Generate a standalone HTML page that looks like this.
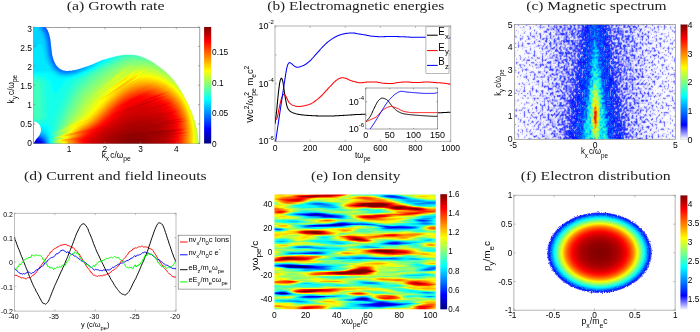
<!DOCTYPE html><html><head><meta charset="utf-8"><title>Figure</title>
<style>html,body{margin:0;padding:0;background:#fff}svg{display:block}text{white-space:pre}</style></head><body>
<svg width="700" height="332" viewBox="0 0 700 332">
<rect width="700" height="332" fill="#fff"/>
<defs>
<filter id="jet" color-interpolation-filters="sRGB" x="0" y="0" width="1" height="1"><feComponentTransfer><feFuncR type="table" tableValues="0 0 0 0 0.5 1 1 1 0.5"/><feFuncG type="table" tableValues="0 0 0.5 1 1 1 0.5 0 0"/><feFuncB type="table" tableValues="0.5 1 1 1 0.5 0 0 0 0"/></feComponentTransfer></filter>
<linearGradient id="cbjet" x1="0" y1="1" x2="0" y2="0">
<stop offset="0.0000" stop-color="#000080"/>
<stop offset="0.0625" stop-color="#0000bf"/>
<stop offset="0.1250" stop-color="#0000ff"/>
<stop offset="0.1875" stop-color="#0040ff"/>
<stop offset="0.2500" stop-color="#0080ff"/>
<stop offset="0.3125" stop-color="#00bfff"/>
<stop offset="0.3750" stop-color="#00ffff"/>
<stop offset="0.4375" stop-color="#40ffbf"/>
<stop offset="0.5000" stop-color="#80ff80"/>
<stop offset="0.5625" stop-color="#bfff40"/>
<stop offset="0.6250" stop-color="#ffff00"/>
<stop offset="0.6875" stop-color="#ffbf00"/>
<stop offset="0.7500" stop-color="#ff8000"/>
<stop offset="0.8125" stop-color="#ff4000"/>
<stop offset="0.8750" stop-color="#ff0000"/>
<stop offset="0.9375" stop-color="#bf0000"/>
<stop offset="1.0000" stop-color="#800000"/>
</linearGradient>
<linearGradient id="cbwjet" x1="0" y1="1" x2="0" y2="0">
<stop offset="0.0000" stop-color="#ffffff"/>
<stop offset="0.0625" stop-color="#7f7fff"/>
<stop offset="0.1250" stop-color="#0000ff"/>
<stop offset="0.1875" stop-color="#0040ff"/>
<stop offset="0.2500" stop-color="#0080ff"/>
<stop offset="0.3125" stop-color="#00bfff"/>
<stop offset="0.3750" stop-color="#00ffff"/>
<stop offset="0.4375" stop-color="#40ffbf"/>
<stop offset="0.5000" stop-color="#80ff80"/>
<stop offset="0.5625" stop-color="#bfff40"/>
<stop offset="0.6250" stop-color="#ffff00"/>
<stop offset="0.6875" stop-color="#ffbf00"/>
<stop offset="0.7500" stop-color="#ff8000"/>
<stop offset="0.8125" stop-color="#ff4000"/>
<stop offset="0.8750" stop-color="#ff0000"/>
<stop offset="0.9375" stop-color="#bf0000"/>
<stop offset="1.0000" stop-color="#800000"/>
</linearGradient>
</defs>
<text x="66.70" y="10.20" font-size="13.40" font-family='"Liberation Serif", serif' fill="#222" textLength="97.90" lengthAdjust="spacingAndGlyphs">(a) Growth rate</text>
<text x="267.30" y="10.00" font-size="13.40" font-family='"Liberation Serif", serif' fill="#222" textLength="176.90" lengthAdjust="spacingAndGlyphs">(b) Electromagnetic energies</text>
<text x="526.30" y="10.00" font-size="13.40" font-family='"Liberation Serif", serif' fill="#222" textLength="140.30" lengthAdjust="spacingAndGlyphs">(c) Magnetic spectrum</text>
<text x="24.00" y="180.20" font-size="13.40" font-family='"Liberation Serif", serif' fill="#222" textLength="182.70" lengthAdjust="spacingAndGlyphs">(d) Current and field lineouts</text>
<text x="311.10" y="180.00" font-size="13.40" font-family='"Liberation Serif", serif' fill="#222" textLength="89.20" lengthAdjust="spacingAndGlyphs">(e) Ion density</text>
<text x="520.80" y="179.80" font-size="13.40" font-family='"Liberation Serif", serif' fill="#222" textLength="149.90" lengthAdjust="spacingAndGlyphs">(f) Electron distribution</text>
<defs><clipPath id="clipA"><path d="M33.5 143.5 L198.90 143.50C198.53 140.97 197.82 133.33 196.70 128.30C195.58 123.27 193.98 118.07 192.20 113.30C190.42 108.53 188.53 104.48 186.00 99.70C183.47 94.92 180.00 88.88 177.00 84.60C174.00 80.32 171.00 77.00 168.00 74.00C165.00 71.00 162.00 68.85 159.00 66.60C156.00 64.35 152.83 62.10 150.00 60.50C147.17 58.90 144.65 57.90 142.00 57.00C139.35 56.10 137.30 55.42 134.10 55.10C130.90 54.78 126.58 54.72 122.80 55.10C119.02 55.48 114.83 56.57 111.40 57.40C107.97 58.23 105.23 58.98 102.20 60.10C99.17 61.22 96.20 62.90 93.20 64.10C90.20 65.30 87.22 66.32 84.20 67.30C81.18 68.28 78.12 69.40 75.10 70.00C72.08 70.60 68.65 71.10 66.10 70.90C63.55 70.70 61.60 70.00 59.80 68.80C58.00 67.60 56.50 65.75 55.30 63.70C54.10 61.65 53.27 59.20 52.60 56.50C51.93 53.80 51.70 50.52 51.30 47.50C50.90 44.48 50.73 41.12 50.20 38.40C49.67 35.68 48.90 33.10 48.10 31.20C47.30 29.30 45.85 27.70 45.40 27.00L33.5 27 L33.5 121.5 C38 121.5 41 125.5 41 130 C41 134 38.5 137 36.3 139 C35 141 34 142.5 33.5 143.5Z"/></clipPath>
<filter id="blA" x="-0.1" y="-0.1" width="1.2" height="1.2"><feGaussianBlur stdDeviation="1.2"/></filter><filter id="blR" x="-0.1" y="-0.1" width="1.2" height="1.2"><feGaussianBlur stdDeviation="0.45"/></filter></defs>
<rect x="33.50" y="27.40" width="166.30" height="116.10" fill="none" stroke="#777" stroke-width="0.70"/>
<g filter="url(#jet)" clip-path="url(#clipA)">
<g filter="url(#blA)">
<rect x="20" y="14" width="196" height="144" fill="#050505"/>
<path d="M24 18l187 0l0 135l-187 0z" fill="#0d0d0d"/>
<path d="M24 18l187 0l0 135l-187 0zM34 144l-.9 1l.9 1l1 0l.9-1l-.9-1z" fill="#121212"/>
<path d="M24 18l187 0l0 135l-187 0zM33 141.9l-1 .3l-1 .7l-.8 1.1l-.2 1l.2 1l.7 1l1.6 1l1.5 .2l2.3-.2l1.6-1l.7-1l.2-1l-.2-1l-.7-1l-.9-.7l-1-.4l-2-.1z" fill="#181818"/>
<path d="M24 18l187 0l0 135l-187 0zM32 140.9l-2 1.1l-.9 1l-.5 1l-.1 1l.1 1l.5 1l.9 1l2 1.1l1 .3l2 .1l2-.4l2-1.2l1-1.4l.4-1.5l-.4-1.5l-1-1.4l-1-.7l-2-.8l-2-.1z" fill="#1d1d1d"/>
<path d="M24 18l187 0l0 135l-187 0zM32 139.8l-2.5 1.2l-1.1 1l-.7 1l-.4 1l-.1 1l.1 1l.4 1l.7 1l1.1 1l1.5 .8l1 .4l2 .3l3-.4l2-.9l1-.8l1.1-1.4l.4-2l-.5-2l-.6-1l-1.4-1.2l-2-.9l-2-.4z" fill="#232323"/>
<path d="M24 18l187 0l0 135l-187 0zM32 138.8l-2 .7l-1 .6l-1.2 .9l-.9 1l-.5 1l-.3 1l0 2l.8 2l.9 1l1.3 1l1.9 .9l2 .4l2 .1l2-.3l2-.7l1-.6l.9-.8l.8-1l.8-2l0-2l-.8-2l-1.7-1.7l-2-1.1l-3-.6z" fill="#282828"/>
<path d="M24 18l187 0l0 135l-187 0zM32 137.9l-1 .2l-2.2 .9l-1.5 1l-1.3 1.3l-.9 1.7l-.4 2l.3 1.8l.6 1.2l.6 1l1.1 1l1.7 1.1l2.4 .9l2.6 .3l2-.1l2-.4l2-.8l1.4-1l.9-1l1.1-2l.2-1l-0-2l-.7-2l-1.6-2l-1.4-1l-1.9-.8l-3-.5z" fill="#2e2e2e"/>
<path d="M24 18l187 0l0 135l-174.8 0l2.8-.7l2-1l1.6-1.3l1.4-2l.6-2l0-1l-.3-2l-.9-2l-1.4-1.5l-2-1.4l-2-.7l-3-.5l-3 .2l-3 .9l-2 1.1l-1.9 1.9l-1.1 2.1zM24 147l0-.1l1.1 2.1l2.1 2l2.8 1.4l2.5 .6l-8.5 0z" fill="#333333"/>
<path d="M24 18l187 0l0 135l-171.8 0l2.1-1l1.7-1.3l1.4-1.7l.8-2l.2-1l-.1-2l-.5-2l-1.2-2l-1.6-1.5l-2-1.2l-3-.9l-2-.2l-3 .1l-2.6 .7l-2.1 1l-1.5 1l-1.8 2zM45 19.6l-.3 .4l-.1 4l.1 2l.3 2l2.6 3l.4 1.2l.6-.2l-.5-2l-1.6-2l-.4-1l-.4-2l.4-5l-.1-.2zM49 32.5l-.2 .5l.2 1.3l.1-.3zM24 149l2 2.1l1.3 .9l2.1 1l-5.4 0z" fill="#393939"/>
<path d="M24 18l20.9 0l-.9 .5l-.4 .5l-.3 1l-.1 6l.4 2l.4 1l2.3 3l1.4 4l.8 3l2.3 15l1.2 4.6l2 4.5l2 2.8l1 1l.4-.9l-.7-1l-1.4-3l-.8-2l-.9-4l-.9-9l-.6-8l-1-5l-1.4-4l-.5-1l-1.6-2l-.4-2l.3-5l-.3-1l-1.2-1l165 0l0 135l-170 0l2-1.3l1.6-1.7l1.1-2l.4-2l-.2-3l-.8-2l-1.1-1.6l-1.4-1.4l-1.6-1l-3-1.1l-2-.3l-3-.1l-2.8 .5l-2.2 .8l-2.2 1.2l-1.8 1.6zM58 66.8l-.7 .2l.7 .3zM24 151l0-.6l1.8 1.6l1.7 1l-3.5 0z" fill="#3e3e3e"/>
<path d="M24 18l19.2 0l-.6 1l-.2 1l-.2 4l.2 3l.6 2.1l2.2 2.9l.5 1l1.5 5l.8 4l1.8 13l1.1 4l1.1 2.9l1 2.1l2 2.9l1 1.2l2 1.7l2 1.2l2 .8l2 .4l2 .1l3.4-.3l3.9-1l.7-.5l1.4-.5l-.4-.4l-9-.3l-3-.8l-2-1.1l-1-.9l-1.4-1.5l-1.3-2l-1.7-4l-1-4l-1.4-15l-.9-5l-1.5-5l-.5-1l-1.5-2l-.5-1l.1-6l-.2-1l-.6-1l163.4-0l-0 135l-168.5 0l1.5-1.2l1.5-1.8l1-2l.3-2l-.2-3l-.7-2l-1.2-2l-1.7-1.6l-1-.7l-3-1.3l-3-.6l-3-.1l-4 .8l-2 .8l-2 1.2l-1 .9zM24 152l0-.3l1.8 1.3l-1.8 0z" fill="#444444"/>
<path d="M24 18l18 0l-.4 1l-.3 4l-0 3l.3 2l.9 2l2.2 3l1.4 4l.9 4.5l1.9 13.5l.7 3l1.4 4l1 2.1l1.9 2.9l1.7 2l1.4 1.2l2 1.4l2 .9l2 .5l3 .3l4-.3l4.4-1l2.6-.9l3.2-2.1l0-1l-2.2-.3l-3 .1l-6 .5l-2-0l-2-.3l-2-.6l-2-1.2l-1.2-1.2l-1.4-2l-1.5-3l-1.4-5l-1.5-15l-1-6l-1.7-5l-2.1-3l-.1-2l.2-4l-.1-1l-.5-1l162.3-0l0 135l-167 0l1-1l1.5-2l.7-2l.3-3l-.5-3l-.8-2l-1.2-1.8l-2-2l-2-1.2l-2-.7l-2-.4l-3-.2l-3 .2l-2 .4l-3 1.2l-2 1.2z" fill="#494949"/>
<path d="M24 18l16.9 0l-.3 1l-.3 4l-0 3l.3 2l.7 2l2.2 3l1.5 3.9l1 4.5l2.2 14.6l1.1 4l1.2 3l1 2l2 3l1.9 2l1.6 1.3l2 1.2l2 .9l2 .5l3 .3l5-.6l3-.6l3-.9l4.5-2.1l1.7-1l2.8-2l-.4-1l-1.6-.2l-13 1.5l-3 .1l-2-.1l-2-.5l-1.7-.8l-1.3-1l-1-1.2l-1.2-1.8l-.8-1.6l-1.3-4.4l-.7-4l-1.4-15l-.9-4l-.9-3l-.9-2l-1.5-2l-.3-1l.2-5l-.4-2l161.1-0l-0 135l-165.3 0l1.4-2l.8-2l.4-3l-.1-2l-.6-3l-.8-2l-1.2-2l-1.6-1.6l-2-1.3l-2-.8l-3-.7l-3-.2l-3 .2l-2 .4l-3 .9l-2 1.1z" fill="#4f4f4f"/>
<path d="M24 18l15.3 0l-.2 1l-.2 5l.2 4l.3 1l.8 2l2.3 3l1.5 4.3l1 4.7l1.4 10l.8 4l1.3 4l1.3 3l1.7 3l1.5 2l2 2l2 1.5l2 1.1l2 .8l2 .4l3 .2l4-.4l4-.8l2-.5l3.4-1.3l6.3-3l3.4-2l2.4-2l0-1l-.5-.2l-1-.1l-4 .3l-9 1.5l-6 .8l-3 .1l-2-.1l-2-.6l-1.4-.7l-1.6-1.5l-1.1-1.5l-.9-1.8l-1.3-4.2l-.7-4.6l-.9-11.4l-.5-4l-.8-4l-1-3l-.9-2l-1.4-2l.2-5l-.3-2l159.6 0l0 135l-163.8 0l1.2-2l.6-2l.2-2l-.2-3.2l-.7-3.8l-.7-2l-1.3-2l-1.3-1.4l-2-1.4l-2-.9l-2-.6l-4-.5l-3 0l-3 .3l-3 .9l-2 .9z" fill="#545454"/>
<path d="M73.6 18l115.3 0l.6 1l2.4 2l8.1 4.7l8 4.9l2 .8l1 .2l0 121.4l-162.5 0l1-2l.6-3l-.2-4l-.6-4l-.6-2l-.9-2l-1.8-2.3l-1.7-1.7l-1.3-1l-2.2-1l-2.8-.8l-3-.4l-3-.1l-3 .2l-3 .6l-2 .7l0-72.9l1-.3l2-1.5l10-10.5l2-1.6l1-.3l1 .5l1 1.6l1 2.9l2.2 8.9l1.4 4l1.9 4l1.2 2l2.3 3l3 2.5l3 1.9l3 1.1l3 .5l4-.2l3-.4l6-1.6l6.7-2.8l7.9-4l4.4-3l2-2l-.2-1l-.8-.2l-3 .3l-17 3.2l-5.9 .7l-3.1 .1l-2-.1l-2.5-1l-1.2-1l-1.3-1.9l-1.2-3.1l-.8-3l-.2-2l-.7-20l.2-3l.7-1.8l1-1l10.6-6.2l2.4-2z" fill="#5a5a5a"/>
<path d="M121.9 35l5.1-.5l6-.2l6 .3l6 .6l7 1.2l6 1.3l5 1.5l5 1.9l5 2.3l5 2.7l6 3.7l5 3.5l5 3.8l4.5 3.9l4.1 4l5.4 5.7l2 1.6l1 .3l0 80.4l-161.2 0l.8-2l.4-3l-.1-3l-.6-5l-.5-2l-1.7-5l-1.1-1.9l-1-1.2l-1-.9l-1.7-1l-3.3-.6l-6-.4l-10 0l0-53.7l4-.9l5-.6l7-.3l7 .1l2 .3l1 .4l6 3.5l2 .9l3 .7l2 .2l3-.2l4-.7l5-1.3l3-.9l10-4.5l7.5-4l4.5-3l3.9-3l.8-2l-.7-.5l-1-.3l-3 .1l-11 2.7l-5.7 1l-7.3 .9l-2 .1l-3-.2l-3-.8l-.2-1l.7-1l1-1l5.3-4l6.2-4.1l6-3.4l7-3.4l7-2.7l7-2.3l7-1.8z" fill="#5f5f5f"/>
<path d="M124.5 46l4.5-.5l4-.1l5 .2l6 .6l6 1l5 1.2l4 1.2l4 1.5l4 1.9l4 2.3l5 3.3l5 3.7l4 3.3l3.7 3.4l3.8 4l3.4 4l2.3 3l2.7 4l7.1 12.4l2 2.3l1 .5l0 53.8l-159.7 0l.4-2l.1-4l-1.1-12l-.7-3l-.9-2l-.2-1l.3-1l-.4-1l-.8-1.2l-1-.6l-2-.4l-8 .6l-5-.2l-4-.7l-4-1.3l-0-45.6l2-1.1l3-1.1l2-.5l3-.3l3-0l3 .4l3 .7l2 .9l2 1.1l1.7 1.3l2.8 3l.7 5l.8 3.6l1 1.8l1 .3l1-.3l2-1.8l6.5-8.6l2.5-2l2.1-1l6.9-2.5l5-2.1l10-4.7l6.7-3.7l8.2-5l4.1-3l1.2-2l.2-1l-.4-1l-1.4-1l-.2-1l.8-1l2.8-1.6l3.5-1.4l4.5-1.3z" fill="#656565"/>
<path d="M124.7 51l3.3-.5l4-.3l4 .1l5 .3l5 .7l5 .9l4 1l4 1.3l4 1.8l4 2.2l7 4.7l4 3.2l3 2.6l3 3l3.6 4l4 5l2.9 4l4.8 8l3 6l2.3 5l4.4 12.2l1 2.2l1 1.3l-0 33.3l-158.3 0l.3-2l-1-11l.3-5l-.3-4l1.4-3l.4-2l.4-4l.1-4l5.1-12l4.2-9l3.1-6l3.1-5l2.3-3l1.8-2l2.5-2l1.6-1l5.3-3l12.7-6.6l7-4.1l9.7-5.3l4.5-3l1.1-1l.7-1l3-2.4zM30.8 78l2.2-.4l2-.1l2 .2l2 .4l3 1.3l2 1.3l1.4 1.3l1.6 30l.6 6l-2.8 2l-1.8 1l-2.7 1l-2.3 .5l-4 .2l-4-.5l-3-1.1l-3-1.8l-0-37.4l3-2.3l2-1z" fill="#6a6a6a"/>
<path d="M127.4 54l3.6-.4l4-.1l4 .2l5 .5l8 1.4l4 1.1l3 1.2l3 1.3l4 2.3l7 4.9l4 3.3l3 2.8l5.9 6.5l5.2 7l4.3 7l2.1 4l2.8 6l2.9 8l4.4 16l2 10l.3 3l.2 4l-.6 9l-155.4 0l-0-3l-.7-4l-.4-4l.7-6l.1-3l2.6-5l3.2-10l4.9-12l5.1-11l2.2-4l2.2-3.2l3-3.7l3-3.1l3.4-3l4.2-3l15.4-9l15.6-8l3.3-2l1.1-1zM30.9 81l2.1-.5l3 .1l2 .5l2.1 .9l.9 15l.7 21l-2.7 1.4l-3 .6l-3 .1l-2-.4l-2-.7l-1.9-1l.8-23l.7-13z" fill="#707070"/>
<path d="M126.6 57l3.4-.6l3-.2l4 0l5 .3l5 .6l4 .8l4 1.1l3 1.1l3 1.4l4 2.2l7 5l6 5.2l5.6 6.1l3.1 4l2.8 4l4.2 7l4.2 9l2.9 8l3.7 14l1.5 8l.6 8l-.4 11l-150.9 0l0-3l-1.1-5l-.1-2l.2-3l1-6l3.5-6l5.2-12.7l7.6-16.3l2.7-5l2.7-4l3.3-4l4.7-4.7l5.1-4.3l5.5-4l6.3-4l5.4-3l16.7-8.3z" fill="#767676"/>
<path d="M130.5 59l3.5-.3l4 0l4 .2l4 .4l7 1.4l3 1l3 1.3l3 1.5l4 2.5l7 5.3l3 2.6l3 3l5 5.8l4.4 6.3l4 7l4 9l3 9l3 12l1.2 7l.6 8l-.3 11l-147.5 0l0-3l-1.1-5l-.2-2l.3-3l.7-4l.4-1l4.4-7l5.1-10.4l10-19.5l2.5-4.1l2.2-3l4.5-5l5.4-5l6.3-5l7.1-4.9l10.8-6.1l8.2-4l4-1.4z" fill="#7b7b7b"/>
<path d="M128.8 62l3.2-.5l4-.3l4 0l4 .2l7 1.2l3 .8l3 1.1l3 1.4l4 2.2l7 5l6 5.4l3 3.2l2.8 3.3l4.2 6l3.5 6l4 9l1.8 5l1.3 4l2.9 12l1.2 7l.6 8l-.3 11l-144.2 0l-.4-3l-1.1-5l-.2-2l.2-2l.7-4l5.9-9l10-17l6.1-11.3l3.8-5.7l4.2-4.8l4.3-4.2l6-5l6.6-5l6.2-4l9.9-5.7l5-2.2z" fill="#818181"/>
<path d="M134.6 64l6.4-.2l7 .6l6 1.4l3 1.1l3 1.3l3 1.7l4 2.6l6 4.6l3 2.8l3 3.1l4.9 6l3.9 6l3 6l3.7 9l2.1 7l2.6 11l1 7l.4 8l-.3 10l-140.9 0l-1.7-6l-.5-3l.1-3l.6-3l11.1-16.3l5.4-7.7l7.7-13l2-3l2.4-3l4.6-5l5.4-5l7.4-6l6.1-4.2l9-5.6l5-2.6l5-1.7z" fill="#868686"/>
<path d="M133.8 67l7.2-.6l6 .3l6 1.2l3 1l3 1.2l6 3.3l4 2.7l3 2.3l3 2.6l3 3l5 6l3.9 6l3.5 7l3.1 8l2.1 7l2 9l1.2 8l.3 8l-.2 10l-137.9 0l-.6-2l-1.4-2.9l-.7-3.1l-.2-3l.4-2l.4-1l10.1-14.2l8.7-10.8l6.9-11l4.4-5.8l4.9-5.2l5.1-4.8l6.3-5.2l5.7-4.1l8-5.2l5-2.8l5-1.9z" fill="#8c8c8c"/>
<path d="M133.7 70l3.3-.5l4-.4l6 .2l3 .4l3 .6l3 .9l3 1.2l6 3l6 4.2l3 2.5l3 2.9l5 5.7l3.6 5.3l3.1 6l3.7 9l2.1 7l1.9 9l1 7l.4 7l-.2 12l-135.1 0l-.5-2l-2-3.7l-.7-2.3l-.2-3l.7-2l3.2-4.8l7-9.1l3-3.4l5.6-5.7l1.7-2l6.7-9.8l4.1-5.2l4.5-5l4.4-4.2l6-5.2l6-4.6l7.4-5l4.6-2.7l5-2.1z" fill="#919191"/>
<path d="M139 72l6-.3l3 .1l3 .5l6 1.5l6 2.6l3 1.6l3 2l5 4l5 5l4 5l3 5l3.3 7l3 8l1.8 7l1.4 7l.8 7l.2 6l-.1 12l-132.4 0l-.5-2l-2.6-5l-.5-2l.2-2l1.3-3l3.1-4.4l5-6.3l4-4.2l7.9-7.1l1.7-2l6.8-9l7-8l5-5l6.6-5.8l5.5-4.2l7.5-5.1l4-2.2l4-1.7l4-1.1z" fill="#979797"/>
<path d="M136.9 75l6.1-.8l3-.1l3 .2l6 1.1l6 2l3 1.4l3 1.7l5 3.6l5 4.6l4.6 5.3l3.4 5.3l3 6.1l2.9 7.6l2 7l1.3 7l.9 7l.2 5l-.1 14l-129.7 0l-.5-2l-2.1-4l-.8-2l-.2-2l.2-1l.8-2l1.9-3l3.2-4.2l3.2-3.8l3.8-3.8l8-6.2l2-1.9l7-8.3l8.7-9.8l5.1-5l5.7-5l7.5-5.7l6-3.9l3-1.6l3-1.2z" fill="#9c9c9c"/>
<path d="M138.7 77l5.3-.7l3 0l3 .3l6 1.1l3 .9l3 1.2l3 1.5l3 1.7l5 3.8l5 4.8l3.6 4.4l3.4 5.5l3 6.4l2.2 6.1l1.9 7l1.2 7l.6 6l.1 19l-126.9 0l-.6-2l-2.1-4l-.8-2l-.1-2l.1-1l.8-2l1.9-3l2.7-3.5l3-3.5l2-2l3-2.6l7.7-5.4l2.3-2l17-18.8l6-5.7l5-4.3l7-5.2l5-3l3-1.4l3-1.1z" fill="#a2a2a2"/>
<path d="M139 79l5-.7l3 0l3 .2l6 1.1l3 .9l3 1.2l5 2.6l5 3.5l5 4.5l4 4.8l3 4.8l3 6.2l2.2 5.9l1.8 7l1.1 6l.6 6l.2 20l-124.3 0l-.5-2l-2.2-4l-.7-2l-.2-2l.2-1l.8-2l1.9-3l2.3-3l2.8-3.2l2-2l3-2.5l7.9-5.3l2.4-2l17.7-19l6-5.8l5-4.1l6-4.4l5-2.9l5-2.1z" fill="#a7a7a7"/>
<path d="M138.4 81l2.6-.5l3-.3l5 0l6 1l3 .8l3 1.1l5 2.4l5 3.4l5 4.3l4 4.5l3 4.6l3 6.1l2.5 6.6l1.5 6l1 6l.5 6l0 11l.2 9l-121.5 0l-.6-2l-2.1-4l-.8-2l-.1-2l.1-1l.8-2l1.3-2l2.2-3l3-3.4l2.6-2.6l2.4-1.9l7.7-5.1l3.3-2.6l9-9.4l8.3-9l5.2-5l4.5-3.8l6-4.5l5-3l5-2.1z" fill="#adadad"/>
<path d="M142.9 82l5.1-.1l6 .9l5 1.3l5 2.2l5 3l5 3.9l4 4l2.8 3.8l2.9 5l2.3 5.2l2 5.8l1.1 5l.8 5l.4 5l.1 4l-.3 8l.3 9l-118.6 0l-.6-2l-2.1-4l-.8-2l-.2-2l.2-1l.8-2l1.9-2.9l2.5-3.1l2.5-2.7l4-3.5l8-5.2l3.3-2.6l7.8-8l6.9-7.6l3.3-3.4l5.4-5l5.3-4.3l6-4l5-2.5l6-2.1l3-.7z" fill="#b2b2b2"/>
<path d="M140.7 84l5.3-.4l5 .4l6 1.3l5 1.9l5 2.6l5 3.6l4 3.6l3.3 4l2.7 4.3l3 6.3l1.8 5.4l1.2 5l.7 5l.4 5l-.3 12l.4 9l-115.8 0l-.6-2l-2.6-5l-.5-2l0-1l.5-2l1.1-2l2.2-3l3.5-4l2.1-2l2.5-2l7.8-5l2.6-2l8-8l7-7.6l4-4.1l4.7-4.3l4.3-3.5l5-3.4l5-2.7l5-2z" fill="#b8b8b8"/>
<path d="M139.2 86l4.8-.7l5 .2l6 1l5 1.7l5 2.3l5.4 3.5l4.6 4l3.4 4l2.6 4l2.9 6l1.7 5l1.2 5l.7 5l.3 5l-.4 12l.5 9l-112.9 0l-.5-2l-2.7-5l-.5-2l0-1l.5-2l1.1-2l2.2-3l2.6-3l4.5-4l7.8-5.1l3.7-2.9l7.1-7l7.2-7.7l4-4.1l4-3.7l4-3.2l5-3.5l4-2.2l5-2.1z" fill="#bdbdbd"/>
<path d="M138.1 88l4.9-.8l5-.1l6 1l5 1.5l6 2.8l5 3.2l4 3.4l3.4 4l2.7 4l2.4 5l1.9 5l1.2 5l.5 4l.4 5l0 4l-.5 9l.5 9l-109.8 0l-.6-2l-2.6-5l-.6-2l-0-1l.6-2l1.1-2l2.2-3l2.2-2.5l2.5-2.5l2.5-2l7.7-5l3.3-2.6l6.6-6.4l6.6-7l4.8-4.8l3.4-3.2l3.6-2.9l5-3.5l4-2.3l4-1.7z" fill="#c3c3c3"/>
<path d="M142.3 89l4.7-.1l5 .6l5 1.3l5 2l5 2.7l4 2.9l3.7 3.6l3.1 4l2.2 3.8l2 4.4l1.3 3.8l1.1 5l.5 4l.2 4l0 4l-.6 8l.6 10l-106.7 0l-.6-2l-2.7-5l-.5-2l0-1l.5-2l1.1-2l2.3-3l2.7-3l3.8-3.3l8-5.3l3.1-2.4l6.3-6l6.6-6.9l5.1-5.1l3.9-3.5l4-3.1l5-3.3l5-2.4l5-1.7z" fill="#c8c8c8"/>
<path d="M140.7 91l4.3-.3l5 .3l5 1.1l5 1.8l5 2.4l4.1 2.7l3.9 3.5l3 3.6l3 4.9l1.8 4l1.3 4l.9 4l.4 4l.3 4l-.1 4l-.6 8l.6 10l-103.5 0l-.6-2l-2.7-5l-.5-2l-0-1l.5-2l1.1-2l2.1-2.8l2-2.2l2-2l2.5-2l7.5-4.9l3-2.4l6.2-5.7l11.9-12l3.3-3l3.6-2.8l4.8-3.2l4.2-2.1l5-1.8z" fill="#cecece"/>
<path d="M139.7 93l4.3-.5l5 .3l5 1l5 1.6l5 2.4l4 2.5l2 1.6l2 1.9l3 3.7l2.7 4.5l1.8 4l1.3 4l.8 4l.4 4l.1 5l-.6 11l.6 9l-100.2 0l-.6-2l-2.7-5l-.5-2l-0-1l.5-2l1.1-2l2.3-3l1.8-2l3.4-3l7.8-5.2l3.6-2.8l5.5-5l11.9-11.9l6.1-5.1l4.5-3l3.8-2l4.6-1.8z" fill="#d3d3d3"/>
<path d="M139.5 95l4.5-.5l5 .3l5 1l5 1.7l5 2.5l3.1 2l3.5 3l3.2 4l2.2 3.6l2 4.3l1 3.1l.9 4l.6 7l-.1 4l-.6 8l.6 10l-96.6 0l-.6-2l-2.7-5l-.5-1.9l0-1.1l.2-1l.8-2l2-2.8l2-2.3l1.9-1.9l2.5-2l6.6-4.4l4.6-3.6l4.5-4l11.9-11.6l6-5l4-2.7l4-2l4.4-1.7z" fill="#d9d9d9"/>
<path d="M137.4 97l4.6-.8l4-.1l5 .7l5 1.3l5 2l5 2.9l3 2.5l3 3.4l2 3.1l2.1 4l1.5 4l.9 4l.5 3.6l.2 3.4l0 4l-.7 8l.7 10l-93.9 0l-.6-2l-2.7-5.1l-.5-1.9l0-1l.6-2l.9-1.7l1.7-2.3l1.8-2l3.3-3l8.2-5.6l4-3.2l4-3.5l12-11.5l5-4.2l3-2l4-2.3l4-1.7z" fill="#dbdbdb"/>
<path d="M142.3 97l4.7 0l5 .8l4.2 1.2l4.8 2l3.6 2l3.4 2.6l3 3.3l2 2.8l2 3.5l1.2 2.8l1 3l.8 4l.5 4l.1 4l-.6 11l.6 9l-92.6 0l-.5-2l-2.7-5l-.6-2l0-1l.6-2l1.2-2l3.3-4l3.4-3l7.3-5l4-3.1l4.5-3.9l11.5-11l6.2-5l4.8-3l4-1.8l4-1.3z" fill="#dddddd"/>
<path d="M141.3 98l4.7-.1l4 .5l4 .9l5 1.8l3.9 1.9l3.1 2.1l3 2.8l3 3.8l2 3.3l1.8 4l1.1 4l.6 3l.4 7l-.6 11l.6 9l-91.1 0l-.5-2l-2.6-5l-.6-2l-0-1l.2-1l.9-2l1.8-2.5l2.2-2.5l3.4-3l6.4-4.3l5-3.9l4.4-3.8l11.6-10.9l5.1-4.1l4.7-3l4.2-1.9l4-1.3z" fill="#dedede"/>
<path d="M142 99l5 .1l5 .8l4 1.2l4.6 1.9l3.5 2l2.9 2.3l3 3.3l2 2.8l2 3.6l1 2.4l1 3.1l.8 4.5l.3 3l.1 4l-.5 10l.5 9l-89.4 0l-.5-2l-2.3-4.2l-.8-1.8l-.2-2l.2-1l.9-2l1.9-2.6l2.2-2.4l3.5-3l6.3-4.3l4.8-3.7l4.2-3.6l11.2-10.4l3.6-3l2.8-2l3.4-2l4.3-2l3.7-1.2z" fill="#e0e0e0"/>
<path d="M137.5 101l4.5-.7l4 .1l4.6 .6l5.4 1.6l4 1.6l4 2.4l3 2.5l3 3.5l2 3l2 4l1.1 3.4l.9 4l.5 6l-.5 11l.5 9l-87.7 0l-.5-2l-2.6-5l-.6-2l-0-1l.2-1l.9-2l1.4-2l1.7-2l3.2-3l7.5-5.2l6.1-4.8l12.9-11.6l4.1-3.4l2.9-2l4-2.3l4-1.7z" fill="#e2e2e2"/>
<path d="M142.6 102l4.4 .2l4 .7l4 1.2l5 2.1l3.1 1.8l2.9 2.4l3 3.3l2 2.8l1.9 3.5l1.1 2.9l.8 3.1l.5 3l.3 6l-.4 9l.5 9l-85.6 0l-.5-2l-2.6-5l-.6-2l-0-1l.6-2l1.1-2l1.6-2l1.8-2l3.6-3l5.9-4.1l5.1-3.9l13.9-12.1l6-4.4l4-2.3l4-1.6l4-1.1z" fill="#e3e3e3"/>
<path d="M135.5 105l4.5-.8l4-.1l4 .4l5 1.2l5 1.9l4 2.1l3 2.4l3 3.1l2 2.7l2 3.5l1 2.6l1.1 4l.6 6l-.3 10l.4 9l-83.3 0l-.5-2l-2.6-5l-.5-2l0-1l.2-1l.8-2l1.4-2l1.6-2l3.3-3l12.8-9.3l11-9.3l4-3.1l3-2.1l3-1.7l3-1.3z" fill="#e5e5e5"/>
<path d="M135.8 107l4.2-.7l4 0l5 .7l5 1.4l4 1.6l4 2.4l3 2.4l2.9 3.2l2.1 3l1.5 3l1.1 3l.7 3l.5 5l-.2 9l.3 9l-80.7 0l-.6-2l-2.6-5l-.5-2l-0-1l.2-1l.8-2l1.3-2l1.7-2l3.2-3l12.5-9l9.8-7.9l4-3l4-2.5l3-1.6l3-1.2z" fill="#e7e7e7"/>
<path d="M136.4 109l4.6-.5l4 .2l4 .7l5 1.5l4 1.6l3 1.8l3 2.3l3 3.1l2 2.8l1.4 2.5l1.2 3l.7 3l.5 5l-.1 8l.2 9l-78 0l-.6-2l-2.6-5l-.5-2l0-1l.2-1l.8-2l1.3-2l1.6-2l2.1-2l2.5-2l10-7l10.3-7.8l4-2.8l3-1.8l3-1.5l3-1.2z" fill="#e9e9e9"/>
<path d="M137.3 111l3.7-.3l4 .3l5 1l5 1.6l3 1.4l3 1.8l3 2.4l2.6 2.8l1.5 2l1.6 3l1.1 3l.7 3l.3 5l0 15l-75.2 0l-.6-2l-2.5-5l-.5-2l0-1l.1-1l.8-2l1.3-2l1.6-2l2.1-2l2.5-2l10.3-7l8.3-6l4-2.7l4-2.2l3-1.4l3-1z" fill="#eaeaea"/>
<path d="M139 113l3 0l4 .5l5 1.1l4 1.4l3 1.4l3 1.9l3 2.4l2 2.2l1.5 2.1l1.5 2.8l.8 2.2l.6 3l.4 5l-.1 14l-72.4 0l-.6-2l-2.5-5l-.5-2l-0-1l.5-2l1-2l1.5-2l1.9-2l2.3-2l2.8-2l16.3-10.9l4-2.4l4-2.1l3-1.1l4-1.1z" fill="#ececec"/>
<path d="M133.9 116l3.1-.6l4-.2l5 .6l5 1.1l4 1.4l3 1.4l3 1.9l3 2.6l2 2.3l1.5 2.5l.9 2l.8 3l.4 3l.1 3l-.1 13l-69.5 0l-.6-2l-2.6-5l-.4-2l-0-1l.1-1l.8-2l1.3-2l1.7-2l2.1-2l2.7-2l16.8-10.7l6-3.2l3-1.2z" fill="#eeeeee"/>
<path d="M134.5 118l3.5-.5l3 0l5 .6l5 1.1l4 1.3l3 1.4l3 2l2.4 2.1l1.6 1.9l1.3 2.1l.9 2l.9 3l.3 3l.2 4l-.3 11l-66.4 0l-.6-2l-2.5-5l-.5-2l-0-1l.2-1l.7-2l1.3-2l1.5-1.7l2.6-2.3l2.8-2l14.6-8.8l3-1.6l4-1.8l3-1.1z" fill="#efefef"/>
<path d="M135.6 120l3.4-.3l3 .2l6 .9l4 .9l3 1.1l3 1.4l2.7 1.8l2.1 2l1.6 2l1.1 2l.8 2l.6 3l.3 3l0 4l-.4 9l-62.9 0l-.6-2l-2.6-5l-.5-2l0-1l.5-2l1.1-2l1.6-2l2.1-2l3.5-2.5l13-7.4l3-1.5l4-1.8l3-1z" fill="#f1f1f1"/>
<path d="M132.3 123l3.7-.7l3-.2l5 .4l5 .9l4 1l3 1.3l2.3 1.3l2.5 2l1.8 2l1.2 2l.7 2l.5 2l.4 3l.1 4l-.5 9l-58.7 0l-.6-2l-2.7-5l-.5-2l0-1l.5-2l1.9-3l3.2-3l4.9-3.1l11-5.8l4-1.7z" fill="#f3f3f3"/>
<path d="M134.4 125l2.6-.3l3 .1l5 .5l4 .8l3 .9l2.4 1l1.7 1l2.6 2l1.3 1.5l1 1.6l1 2.6l.5 2.3l.2 3l0 3l-.7 8l-52.5 0l-.7-2l-2.9-5l-.5-2l0-1l.6-2l1-1.8l1-1.2l2.1-2l2.9-2l9-4.7l6-2.6l3-.9z" fill="#f4f4f4"/>
<path d="M132.4 128l2.6-.4l3-.1l4 .3l4 .7l3 .9l2 .8l2 1.2l1.9 1.6l1.1 1.3l1 1.7l.8 2l.5 3l0 5l-1 7l-43.4 0l-.9-2l-2.8-4l-.8-2l-.2-2l.2-1l.6-1.5l1-1.5l1-1.1l2-1.7l4-2.4l8-3.8l3-1.1z" fill="#f6f6f6"/>
<path d="M131.1 131l2.9-.5l2-.2l3 .2l3.5 .5l2.5 .6l2 .8l2 1.2l1.7 1.4l.8 1l1.1 2l.6 2l.3 2l-.1 4l-1.5 7l-32.7 0l-.4-1l-3.6-4l-1.3-2l-.6-2l-0-1l.6-2l.6-1l1.5-1.6l3.3-2.4l6.7-3.3z" fill="#f8f8f8"/>
<path d="M130 134l4-.7l2-.1l3 .3l2.1 .5l2.6 1l1.6 1l1.1 1l.8 1l1 2l.4 2l.1 2l-.5 3l-2.2 5l-.3 1l-20.7-0l-.5-1l-1-1l-3.5-2.9l-1.1-1.1l-1.2-2l-.3-2l.6-1.6l.9-1.4l2.1-1.8l2-1.2l4-1.9z" fill="#fafafa"/>
<path d="M129.4 137l3.6-.8l3 .1l3 .7l1.9 1l1.1 1l1.3 2l.3 1l.1 2l-.4 2l-.5 1l-1.5 2l-2.3 1.7l-2 1l-2 .6l-1 .1l-2-.6l-3-1.4l-3-1.7l-2.3-1.7l-1-1l-.7-1.3l-.2-.7l0-1l.3-1l.9-1.3l2-1.6l2-1.1z" fill="#fbfbfb"/>
<path d="M129.9 140l2.1-.5l2 0l1.7 .5l1.3 .8l.9 1.2l.4 1l0 1l-.3 1l-.8 1l-1.2 .9l-1 .4l-2 .3l-1-0l-2-.5l-2-1.1l-1-1.1l-.4-.9l0-1l.4-1l1-1z" fill="#fdfdfd"/>
</g>
<g filter="url(#blR)">
<path d="M138.0 115.5L161.6 109.8L177.1 105.1L161.3 108.7Z" fill="#fff" fill-opacity="0.15"/>
<path d="M139.9 111.9L162.0 105.9L176.5 101.0L161.7 104.9Z" fill="#fff" fill-opacity="0.13"/>
<path d="M147.6 132.3L171.8 131.1L187.8 128.4L171.6 128.9Z" fill="#fff" fill-opacity="0.10"/>
<path d="M123.1 125.7L156.6 119.9L178.6 114.6L156.2 118.1Z" fill="#fff" fill-opacity="0.14"/>
<path d="M104.2 86.0L120.6 73.6L130.8 64.4L119.7 72.5Z" fill="#fff" fill-opacity="0.04"/>
<path d="M138.0 130.0L165.0 127.2L182.8 124.2L164.8 125.9Z" fill="#fff" fill-opacity="0.19"/>
<path d="M115.0 102.6L142.3 89.5L160.1 80.0L141.8 88.6Z" fill="#fff" fill-opacity="0.05"/>
<path d="M121.5 127.0L159.3 120.6L184.3 115.2L159.0 119.2Z" fill="#fff" fill-opacity="0.18"/>
<path d="M127.0 109.9L152.8 101.7L169.4 94.7L152.1 99.8Z" fill="#fff" fill-opacity="0.09"/>
<path d="M112.9 107.7L142.5 95.5L161.5 85.8L141.6 93.7Z" fill="#fff" fill-opacity="0.09"/>
<path d="M101.6 87.9L121.5 72.9L133.7 61.6L120.2 71.3Z" fill="#fff" fill-opacity="0.04"/>
<path d="M135.2 104.3L155.6 97.5L168.7 91.4L154.9 95.6Z" fill="#fff" fill-opacity="0.14"/>
<path d="M102.8 94.2L126.2 78.8L140.8 67.2L125.1 77.3Z" fill="#fff" fill-opacity="0.09"/>
<path d="M106.5 117.1L143.6 104.6L167.8 94.9L143.0 103.0Z" fill="#fff" fill-opacity="0.16"/>
<path d="M123.4 135.2L160.9 133.0L185.8 129.5L160.7 130.6Z" fill="#fff" fill-opacity="0.25"/>
<path d="M130.4 120.2L159.5 113.7L178.7 108.5L159.3 112.7Z" fill="#fff" fill-opacity="0.15"/>
<path d="M144.5 125.5L171.4 122.2L189.0 118.3L171.1 120.1Z" fill="#fff" fill-opacity="0.09"/>
<path d="M131.5 122.4L159.7 116.9L178.4 112.3L159.5 115.8Z" fill="#fff" fill-opacity="0.15"/>
<path d="M101.0 114.4L139.0 99.2L163.6 87.4L138.1 97.2Z" fill="#fff" fill-opacity="0.09"/>
<path d="M126.3 112.7L153.2 105.0L170.5 98.0L152.5 102.8Z" fill="#fff" fill-opacity="0.08"/>
<path d="M139.8 125.7L168.3 121.7L187.1 117.7L168.0 120.1Z" fill="#fff" fill-opacity="0.19"/>
<path d="M146.1 118.1L167.9 113.9L182.1 109.9L167.5 112.5Z" fill="#fff" fill-opacity="0.17"/>
<path d="M85.9 102.2L116.4 79.3L135.7 62.9L115.2 77.8Z" fill="#fff" fill-opacity="0.08"/>
<path d="M115.7 136.3L157.1 133.8L184.6 130.3L156.9 131.6Z" fill="#fff" fill-opacity="0.25"/>
<path d="M125.7 114.4L158.0 105.2L179.1 97.6L157.5 103.4Z" fill="#fff" fill-opacity="0.07"/>
<path d="M142.9 133.0L171.5 131.0L190.5 128.4L171.4 129.5Z" fill="#fff" fill-opacity="0.08"/>
<path d="M146.4 137.6L174.0 136.9L192.3 135.2L173.9 135.4Z" fill="#fff" fill-opacity="0.08"/>
<path d="M93.1 101.2L124.9 79.5L145.4 64.1L124.1 78.4Z" fill="#fff" fill-opacity="0.06"/>
<path d="M137.5 112.8L159.3 107.5L173.3 102.1L158.6 105.2Z" fill="#fff" fill-opacity="0.14"/>
<path d="M133.7 105.2L158.3 96.6L174.2 89.8L157.7 95.3Z" fill="#fff" fill-opacity="0.09"/>
<path d="M111.0 91.9L135.2 77.1L150.3 65.7L133.9 75.2Z" fill="#fff" fill-opacity="0.09"/>
<path d="M128.1 129.5L165.3 124.9L189.9 120.3L165.1 123.1Z" fill="#fff" fill-opacity="0.27"/>
<path d="M91.1 103.3L124.1 81.1L145.4 65.3L123.2 79.9Z" fill="#fff" fill-opacity="0.05"/>
<path d="M102.2 101.3L130.5 84.8L148.6 72.8L129.7 83.6Z" fill="#fff" fill-opacity="0.06"/>
<path d="M84.5 110.3L121.3 87.7L144.8 71.1L120.1 85.9Z" fill="#fff" fill-opacity="0.12"/>
<path d="M114.5 96.0L138.1 83.1L153.2 73.3L137.4 81.8Z" fill="#fff" fill-opacity="0.04"/>
<path d="M140.8 135.9L170.6 134.8L190.3 132.4L170.4 132.9Z" fill="#fff" fill-opacity="0.29"/>
<path d="M103.2 118.7L142.4 106.1L167.9 95.8L141.6 103.9Z" fill="#fff" fill-opacity="0.11"/>
<path d="M46.1 142.0L70.1 139.4L94.0 136.2L70.0 138.7Z" fill="#fff" fill-opacity="0.12"/>
<path d="M51.9 135.5L74.7 126.1L97.1 115.8L74.3 125.2Z" fill="#fff" fill-opacity="0.14"/>
<path d="M51.4 142.4L83.5 140.9L115.6 138.4L83.5 139.8Z" fill="#fff" fill-opacity="0.14"/>
<path d="M45.3 140.7L77.8 133.5L110.1 125.5L77.6 132.7Z" fill="#fff" fill-opacity="0.14"/>
<path d="M46.8 137.2L70.7 126.5L94.1 114.8L70.2 125.5Z" fill="#fff" fill-opacity="0.13"/>
<path d="M45.0 142.4L68.9 140.6L92.7 137.6L68.8 139.4Z" fill="#fff" fill-opacity="0.14"/>
<path d="M53.3 141.7L85.5 139.4L117.6 136.0L85.4 138.4Z" fill="#fff" fill-opacity="0.10"/>
<path d="M44.7 140.5L66.0 135.4L87.1 129.2L65.7 134.3Z" fill="#fff" fill-opacity="0.12"/>
<path d="M54.0 138.2L76.8 132.9L99.4 126.6L76.6 131.9Z" fill="#fff" fill-opacity="0.14"/>
<path d="M46.4 142.0L71.7 139.4L96.9 136.1L71.6 138.7Z" fill="#fff" fill-opacity="0.12"/>
<path d="M48.4 141.4L70.2 139.0L91.9 135.4L70.1 137.9Z" fill="#fff" fill-opacity="0.10"/>
<path d="M50.1 139.8L81.9 133.0L113.6 125.4L81.8 132.2Z" fill="#fff" fill-opacity="0.15"/>
</g>
</g>
<path d="M69.10 143.50v-1.80M69.10 27.40v1.80M104.90 143.50v-1.80M104.90 27.40v1.80M140.60 143.50v-1.80M140.60 27.40v1.80M176.30 143.50v-1.80M176.30 27.40v1.80M33.50 27.00h1.80M199.80 27.00h-1.80M33.50 46.40h1.80M199.80 46.40h-1.80M33.50 65.80h1.80M199.80 65.80h-1.80M33.50 85.20h1.80M199.80 85.20h-1.80M33.50 104.60h1.80M199.80 104.60h-1.80M33.50 124.00h1.80M199.80 124.00h-1.80M33.50 143.40h1.80M199.80 143.40h-1.80" stroke="#777" stroke-width="0.60" fill="none"/>
<rect x="204.1" y="27" width="7.1" height="116.5" fill="url(#cbjet)"/>
<text x="212.00" y="55.10" font-size="8.80" text-anchor="start" font-family='"Liberation Sans", Arial, sans-serif' fill="#000" textLength="16.27" lengthAdjust="spacingAndGlyphs">0.15</text>
<text x="212.00" y="85.70" font-size="8.80" text-anchor="start" font-family='"Liberation Sans", Arial, sans-serif' fill="#000" textLength="11.62" lengthAdjust="spacingAndGlyphs">0.1</text>
<text x="212.00" y="116.20" font-size="8.80" text-anchor="start" font-family='"Liberation Sans", Arial, sans-serif' fill="#000" textLength="16.27" lengthAdjust="spacingAndGlyphs">0.05</text>
<text x="212.00" y="146.60" font-size="8.80" text-anchor="start" font-family='"Liberation Sans", Arial, sans-serif' fill="#000" textLength="4.65" lengthAdjust="spacingAndGlyphs">0</text>
<text x="32.00" y="31.70" font-size="8.90" text-anchor="end" font-family='"Liberation Sans", Arial, sans-serif' fill="#000" textLength="4.70" lengthAdjust="spacingAndGlyphs">3</text>
<text x="32.00" y="50.70" font-size="8.90" text-anchor="end" font-family='"Liberation Sans", Arial, sans-serif' fill="#000" textLength="11.75" lengthAdjust="spacingAndGlyphs">2.5</text>
<text x="32.00" y="69.70" font-size="8.90" text-anchor="end" font-family='"Liberation Sans", Arial, sans-serif' fill="#000" textLength="4.70" lengthAdjust="spacingAndGlyphs">2</text>
<text x="32.00" y="88.70" font-size="8.90" text-anchor="end" font-family='"Liberation Sans", Arial, sans-serif' fill="#000" textLength="11.75" lengthAdjust="spacingAndGlyphs">1.5</text>
<text x="32.00" y="107.70" font-size="8.90" text-anchor="end" font-family='"Liberation Sans", Arial, sans-serif' fill="#000" textLength="4.70" lengthAdjust="spacingAndGlyphs">1</text>
<text x="32.00" y="126.70" font-size="8.90" text-anchor="end" font-family='"Liberation Sans", Arial, sans-serif' fill="#000" textLength="11.75" lengthAdjust="spacingAndGlyphs">0.5</text>
<text x="32.00" y="145.70" font-size="8.90" text-anchor="end" font-family='"Liberation Sans", Arial, sans-serif' fill="#000" textLength="4.70" lengthAdjust="spacingAndGlyphs">0</text>
<text x="69.10" y="151.80" font-size="8.80" text-anchor="middle" font-family='"Liberation Sans", Arial, sans-serif' fill="#000" textLength="4.65" lengthAdjust="spacingAndGlyphs">1</text>
<text x="104.90" y="151.80" font-size="8.80" text-anchor="middle" font-family='"Liberation Sans", Arial, sans-serif' fill="#000" textLength="4.65" lengthAdjust="spacingAndGlyphs">2</text>
<text x="140.60" y="151.80" font-size="8.80" text-anchor="middle" font-family='"Liberation Sans", Arial, sans-serif' fill="#000" textLength="4.65" lengthAdjust="spacingAndGlyphs">3</text>
<text x="176.30" y="151.80" font-size="8.80" text-anchor="middle" font-family='"Liberation Sans", Arial, sans-serif' fill="#000" textLength="4.65" lengthAdjust="spacingAndGlyphs">4</text>
<text x="101.70" y="158.00" font-size="9.00" text-anchor="start" font-family='"Liberation Sans", Arial, sans-serif' fill="#000" textLength="29.0" lengthAdjust="spacingAndGlyphs">k<tspan font-size="7.2" dy="3.4">x</tspan><tspan dy="-3.4" dx="1.2">c/ω</tspan><tspan font-size="7.2" dy="3.4">pe</tspan></text>
<g transform="translate(13.6,103.4) rotate(-90)">
<text x="0.00" y="0.00" font-size="9.00" text-anchor="start" font-family='"Liberation Sans", Arial, sans-serif' fill="#000" textLength="28.6" lengthAdjust="spacingAndGlyphs">k<tspan font-size="7.2" dy="3.4">y</tspan><tspan dy="-3.4" dx="1.2">c/ω</tspan><tspan font-size="7.2" dy="3.4">pe</tspan></text>
</g>
<rect x="275.00" y="26.00" width="175.60" height="115.50" fill="none" stroke="#c2c2c2" stroke-width="1.25"/>
<path d="M275.00 141.50v-1.80M275.00 26.00v1.80M310.12 141.50v-1.80M310.12 26.00v1.80M345.24 141.50v-1.80M345.24 26.00v1.80M380.36 141.50v-1.80M380.36 26.00v1.80M415.48 141.50v-1.80M415.48 26.00v1.80M450.60 141.50v-1.80M450.60 26.00v1.80M275.00 26.00h1.80M450.60 26.00h-1.80M275.00 54.88h1.80M450.60 54.88h-1.80M275.00 83.75h1.80M450.60 83.75h-1.80M275.00 112.62h1.80M450.60 112.62h-1.80M275.00 141.50h1.80M450.60 141.50h-1.80" stroke="#999" stroke-width="0.70" fill="none"/>
<clipPath id="clipB"><rect x="275.0" y="26.0" width="175.6" height="115.5"/></clipPath>
<g clip-path="url(#clipB)" fill="none" stroke-width="1.05" stroke-linejoin="round">
<path d="M274.90 124.10L275.58 119.38L276.26 114.05L276.94 107.88L277.61 100.64L278.29 93.78L278.97 88.16L279.65 83.15L280.33 80.11L281.01 78.36L281.68 78.20L282.36 79.78L283.04 82.46L283.72 87.17L284.40 92.44L285.08 96.66L285.75 100.38L286.43 103.84L287.11 106.59L287.79 108.26L288.47 109.38L289.15 110.27L289.82 110.97L290.50 111.50L291.18 111.93L291.86 112.30L292.54 112.62L293.22 112.89L293.89 113.14L294.57 113.35L295.25 113.56L295.93 113.75L296.61 113.92L297.29 114.09L297.96 114.24L298.64 114.37L299.32 114.49L300.00 114.60L300.68 114.70L301.36 114.79L302.04 114.87L302.71 114.95L303.39 115.03L304.07 115.09L304.75 115.16L305.43 115.22L306.11 115.27L306.78 115.32L307.46 115.37L308.14 115.42L308.82 115.47L309.50 115.51L310.18 115.56L310.85 115.60L311.53 115.64L312.21 115.68L312.89 115.72L313.57 115.75L314.25 115.78L314.92 115.81L315.60 115.84L316.28 115.86L316.96 115.88L317.64 115.89L318.32 115.90L318.99 115.91L319.67 115.92L320.35 115.93L321.03 115.94L321.71 115.95L322.39 115.96L323.06 115.96L323.74 115.97L324.42 115.98L325.10 115.98L325.78 115.99L326.46 115.99L327.14 115.99L327.81 116.00L328.49 116.00L329.17 116.00L329.85 116.00L330.53 116.00L331.21 115.99L331.88 115.97L332.56 115.96L333.24 115.94L333.92 115.91L334.60 115.88L335.28 115.85L335.95 115.82L336.63 115.79L337.31 115.75L337.99 115.71L338.67 115.67L339.35 115.63L340.02 115.59L340.70 115.55L341.38 115.51L342.06 115.47L342.74 115.43L343.42 115.39L344.09 115.35L344.77 115.31L345.45 115.28L346.13 115.24L346.81 115.19L347.49 115.15L348.16 115.10L348.84 115.06L349.52 115.01L350.20 114.96L350.88 114.91L351.56 114.87L352.24 114.82L352.91 114.77L353.59 114.73L354.27 114.68L354.95 114.64L355.63 114.60L356.31 114.56L356.98 114.53L357.66 114.50L358.34 114.47L359.02 114.45L359.70 114.42L360.38 114.40L361.05 114.37L361.73 114.35L362.41 114.33L363.09 114.31L363.77 114.28L364.45 114.26L365.12 114.24L365.80 114.22L366.48 114.20L367.16 114.19L367.84 114.17L368.52 114.15L369.19 114.13L369.87 114.12L370.55 114.10L371.23 114.08L371.91 114.07L372.59 114.05L373.26 114.04L373.94 114.02L374.62 114.01L375.30 113.99L375.98 113.98L376.66 113.97L377.34 113.95L378.01 113.94L378.69 113.93L379.37 113.91L380.05 113.90L380.73 113.89L381.41 113.88L382.08 113.87L382.76 113.86L383.44 113.85L384.12 113.83L384.80 113.82L385.48 113.81L386.15 113.80L386.83 113.79L387.51 113.78L388.19 113.77L388.87 113.76L389.55 113.75L390.22 113.74L390.90 113.73L391.58 113.72L392.26 113.71L392.94 113.70L393.62 113.69L394.29 113.68L394.97 113.67L395.65 113.66L396.33 113.66L397.01 113.65L397.69 113.64L398.36 113.62L399.04 113.61L399.72 113.60L400.40 113.59L401.08 113.58L401.76 113.57L402.44 113.56L403.11 113.55L403.79 113.54L404.47 113.54L405.15 113.53L405.83 113.52L406.51 113.51L407.18 113.50L407.86 113.49L408.54 113.48L409.22 113.47L409.90 113.46L410.58 113.45L411.25 113.44L411.93 113.43L412.61 113.42L413.29 113.41L413.97 113.40L414.65 113.39L415.32 113.38L416.00 113.37L416.68 113.36L417.36 113.35L418.04 113.34L418.72 113.32L419.39 113.31L420.07 113.30L420.75 113.29L421.43 113.27L422.11 113.26L422.79 113.24L423.46 113.23L424.14 113.21L424.82 113.20L425.50 113.18L426.18 113.16L426.86 113.15L427.54 113.13L428.21 113.11L428.89 113.09L429.57 113.08L430.25 113.06L430.93 113.04L431.61 113.02L432.28 113.00L432.96 112.98L433.64 112.96L434.32 112.93L435.00 112.91L435.68 112.89L436.35 112.87L437.03 112.84L437.71 112.82L438.39 112.80L439.07 112.77L439.75 112.75L440.42 112.72L441.10 112.69L441.78 112.66L442.46 112.63L443.14 112.60L443.82 112.56L444.49 112.53L445.17 112.50L445.85 112.46L446.53 112.43L447.21 112.39L447.89 112.35L448.56 112.32L449.24 112.28L449.92 112.24L450.60 112.20" stroke="#000"/>
<path d="M274.90 120.00L275.58 119.81L276.26 119.29L276.94 118.47L277.61 115.88L278.29 112.58L278.97 109.12L279.65 105.83L280.33 102.79L281.01 100.06L281.68 98.00L282.36 96.16L283.04 94.74L283.72 94.31L284.40 94.66L285.08 95.34L285.75 96.11L286.43 97.30L287.11 98.79L287.79 100.32L288.47 101.66L289.15 102.55L289.82 103.22L290.50 103.82L291.18 104.34L291.86 104.77L292.54 105.12L293.22 105.37L293.89 105.60L294.57 105.82L295.25 106.01L295.93 106.18L296.61 106.32L297.29 106.42L297.96 106.48L298.64 106.50L299.32 106.48L300.00 106.42L300.68 106.35L301.36 106.26L302.04 106.15L302.71 106.03L303.39 105.91L304.07 105.79L304.75 105.66L305.43 105.51L306.11 105.34L306.78 105.16L307.46 104.96L308.14 104.75L308.82 104.52L309.50 104.27L310.18 104.01L310.85 103.73L311.53 103.41L312.21 103.04L312.89 102.63L313.57 102.19L314.25 101.71L314.92 101.21L315.60 100.71L316.28 100.19L316.96 99.68L317.64 99.15L318.32 98.59L318.99 98.00L319.67 97.40L320.35 96.78L321.03 96.15L321.71 95.50L322.39 94.83L323.06 94.13L323.74 93.42L324.42 92.68L325.10 91.94L325.78 91.19L326.46 90.43L327.14 89.67L327.81 88.92L328.49 88.18L329.17 87.45L329.85 86.74L330.53 86.02L331.21 85.29L331.88 84.56L332.56 83.84L333.24 83.14L333.92 82.47L334.60 81.85L335.28 81.27L335.95 80.69L336.63 80.12L337.31 79.58L337.99 79.12L338.67 78.74L339.35 78.47L340.02 78.21L340.70 77.99L341.38 77.81L342.06 77.71L342.74 77.71L343.42 77.78L344.09 77.91L344.77 78.07L345.45 78.25L346.13 78.44L346.81 78.68L347.49 78.99L348.16 79.33L348.84 79.68L349.52 80.00L350.20 80.28L350.88 80.52L351.56 80.77L352.24 81.00L352.91 81.22L353.59 81.42L354.27 81.61L354.95 81.79L355.63 81.96L356.31 82.13L356.98 82.31L357.66 82.47L358.34 82.61L359.02 82.72L359.70 82.78L360.38 82.80L361.05 82.77L361.73 82.72L362.41 82.64L363.09 82.54L363.77 82.44L364.45 82.34L365.12 82.25L365.80 82.17L366.48 82.12L367.16 82.10L367.84 82.08L368.52 82.07L369.19 82.06L369.87 82.05L370.55 82.04L371.23 82.03L371.91 82.02L372.59 82.01L373.26 82.01L373.94 82.00L374.62 82.00L375.30 82.00L375.98 82.01L376.66 82.06L377.34 82.14L378.01 82.26L378.69 82.40L379.37 82.54L380.05 82.70L380.73 82.85L381.41 82.98L382.08 83.10L382.76 83.18L383.44 83.23L384.12 83.28L384.80 83.33L385.48 83.38L386.15 83.43L386.83 83.47L387.51 83.50L388.19 83.54L388.87 83.56L389.55 83.58L390.22 83.59L390.90 83.60L391.58 83.59L392.26 83.53L392.94 83.45L393.62 83.34L394.29 83.22L394.97 83.09L395.65 82.94L396.33 82.81L397.01 82.68L397.69 82.56L398.36 82.46L399.04 82.40L399.72 82.34L400.40 82.29L401.08 82.24L401.76 82.19L402.44 82.14L403.11 82.10L403.79 82.06L404.47 82.04L405.15 82.01L405.83 82.00L406.51 82.00L407.18 82.01L407.86 82.04L408.54 82.08L409.22 82.13L409.90 82.19L410.58 82.25L411.25 82.31L411.93 82.37L412.61 82.43L413.29 82.49L413.97 82.53L414.65 82.57L415.32 82.59L416.00 82.60L416.68 82.59L417.36 82.57L418.04 82.54L418.72 82.51L419.39 82.46L420.07 82.41L420.75 82.35L421.43 82.30L422.11 82.24L422.79 82.19L423.46 82.14L424.14 82.09L424.82 82.05L425.50 82.02L426.18 82.01L426.86 82.00L427.54 82.01L428.21 82.03L428.89 82.05L429.57 82.09L430.25 82.13L430.93 82.18L431.61 82.24L432.28 82.29L432.96 82.35L433.64 82.41L434.32 82.47L435.00 82.52L435.68 82.58L436.35 82.62L437.03 82.67L437.71 82.71L438.39 82.76L439.07 82.80L439.75 82.85L440.42 82.89L441.10 82.94L441.78 83.00L442.46 83.05L443.14 83.11L443.82 83.18L444.49 83.25L445.17 83.34L445.85 83.43L446.53 83.54L447.21 83.65L447.89 83.77L448.56 83.89L449.24 84.02L449.92 84.16L450.60 84.30" stroke="#f00"/>
<path d="M275.60 141.50L276.28 136.91L276.95 132.34L277.63 127.77L278.30 123.22L278.98 118.68L279.65 114.16L280.33 109.64L281.01 105.13L281.68 100.60L282.36 96.07L283.03 91.56L283.71 87.09L284.38 82.69L285.06 78.37L285.74 73.88L286.41 69.89L287.09 66.94L287.76 64.69L288.44 63.51L289.11 62.74L289.79 62.63L290.46 62.92L291.14 63.36L291.82 63.83L292.49 64.45L293.17 65.12L293.84 65.70L294.52 66.12L295.19 66.54L295.87 66.89L296.55 67.13L297.22 67.20L297.90 67.15L298.57 67.04L299.25 66.89L299.92 66.71L300.60 66.51L301.28 66.32L301.95 66.09L302.63 65.81L303.30 65.50L303.98 65.17L304.65 64.80L305.33 64.43L306.01 64.01L306.68 63.54L307.36 63.04L308.03 62.50L308.71 61.93L309.38 61.35L310.06 60.75L310.74 60.11L311.41 59.44L312.09 58.73L312.76 57.99L313.44 57.23L314.11 56.46L314.79 55.68L315.46 54.90L316.14 54.14L316.82 53.38L317.49 52.63L318.17 51.86L318.84 51.08L319.52 50.30L320.19 49.53L320.87 48.77L321.55 48.02L322.22 47.30L322.90 46.60L323.57 45.93L324.25 45.27L324.92 44.62L325.60 43.98L326.28 43.36L326.95 42.75L327.63 42.17L328.30 41.61L328.98 41.07L329.65 40.56L330.33 40.07L331.01 39.59L331.68 39.12L332.36 38.67L333.03 38.24L333.71 37.83L334.38 37.44L335.06 37.07L335.74 36.73L336.41 36.41L337.09 36.10L337.76 35.80L338.44 35.52L339.11 35.25L339.79 35.00L340.46 34.76L341.14 34.54L341.82 34.35L342.49 34.18L343.17 34.02L343.84 33.87L344.52 33.73L345.19 33.60L345.87 33.48L346.55 33.38L347.22 33.28L347.90 33.21L348.57 33.15L349.25 33.08L349.92 33.03L350.60 32.97L351.28 32.93L351.95 32.91L352.63 32.90L353.30 32.93L353.98 33.00L354.65 33.11L355.33 33.25L356.01 33.39L356.68 33.54L357.36 33.68L358.03 33.81L358.71 33.92L359.38 34.02L360.06 34.13L360.74 34.24L361.41 34.35L362.09 34.46L362.76 34.56L363.44 34.67L364.11 34.78L364.79 34.90L365.46 35.01L366.14 35.14L366.82 35.27L367.49 35.41L368.17 35.56L368.84 35.70L369.52 35.83L370.19 35.96L370.87 36.06L371.55 36.15L372.22 36.22L372.90 36.28L373.57 36.34L374.25 36.39L374.92 36.45L375.60 36.50L376.28 36.54L376.95 36.58L377.63 36.62L378.30 36.65L378.98 36.67L379.65 36.69L380.33 36.70L381.01 36.70L381.68 36.69L382.36 36.68L383.03 36.67L383.71 36.65L384.38 36.63L385.06 36.61L385.74 36.59L386.41 36.57L387.09 36.55L387.76 36.53L388.44 36.52L389.11 36.51L389.79 36.50L390.46 36.50L391.14 36.50L391.82 36.51L392.49 36.51L393.17 36.52L393.84 36.53L394.52 36.54L395.19 36.56L395.87 36.57L396.55 36.58L397.22 36.60L397.90 36.62L398.57 36.63L399.25 36.65L399.92 36.67L400.60 36.68L401.28 36.70L401.95 36.72L402.63 36.75L403.30 36.78L403.98 36.81L404.65 36.85L405.33 36.89L406.01 36.93L406.68 36.97L407.36 37.01L408.03 37.05L408.71 37.08L409.38 37.12L410.06 37.15L410.74 37.17L411.41 37.19L412.09 37.20L412.76 37.21L413.44 37.22L414.11 37.23L414.79 37.24L415.46 37.24L416.14 37.25L416.82 37.26L417.49 37.27L418.17 37.27L418.84 37.28L419.52 37.28L420.19 37.29L420.87 37.29L421.55 37.29L422.22 37.30L422.90 37.30L423.57 37.30L424.25 37.30L424.92 37.30L425.60 37.30L426.28 37.30L426.95 37.30L427.63 37.30L428.30 37.30L428.98 37.30L429.65 37.30L430.33 37.30L431.01 37.30L431.68 37.30L432.36 37.30L433.03 37.30L433.71 37.30L434.38 37.30L435.06 37.30L435.74 37.30L436.41 37.30L437.09 37.31L437.76 37.32L438.44 37.34L439.11 37.37L439.79 37.39L440.46 37.42L441.14 37.46L441.82 37.49L442.49 37.53L443.17 37.56L443.84 37.59L444.52 37.62L445.19 37.66L445.87 37.70L446.55 37.73L447.22 37.78L447.90 37.82L448.57 37.86L449.25 37.91L449.92 37.95L450.60 38.00" stroke="#00f"/>
</g>
<rect x="425.9" y="26.7" width="23.1" height="46.7" fill="#fff" stroke="#999" stroke-width="0.7"/>
<path d="M427.0 35.2H437.7" stroke="#000" stroke-width="1.05"/>
<text x="438.30" y="35.20" font-size="10.20" text-anchor="start" font-family='"Liberation Sans", Arial, sans-serif' fill="#000" textLength="10.6" lengthAdjust="spacingAndGlyphs">E<tspan font-size="8" dy="3.6" dx="0.3">x</tspan></text>
<path d="M427.0 50.6H437.7" stroke="#f00" stroke-width="1.05"/>
<text x="438.30" y="50.60" font-size="10.20" text-anchor="start" font-family='"Liberation Sans", Arial, sans-serif' fill="#000" textLength="10.6" lengthAdjust="spacingAndGlyphs">E<tspan font-size="8" dy="3.6" dx="0.3">y</tspan></text>
<path d="M427.0 65.4H437.7" stroke="#00f" stroke-width="1.05"/>
<text x="438.30" y="65.40" font-size="10.20" text-anchor="start" font-family='"Liberation Sans", Arial, sans-serif' fill="#000" textLength="10.6" lengthAdjust="spacingAndGlyphs">B<tspan font-size="8" dy="3.6" dx="0.3">z</tspan></text>
<rect x="365.8" y="88.0" width="71.8" height="41.0" fill="#fff" stroke="#666" stroke-width="0.6"/>
<path d="M365.80 129.00v-1.20M365.80 88.00v1.20M389.70 129.00v-1.20M389.70 88.00v1.20M413.60 129.00v-1.20M413.60 88.00v1.20M437.50 129.00v-1.20M437.50 88.00v1.20M365.80 88.00h1.20M437.60 88.00h-1.20M365.80 101.70h1.20M437.60 101.70h-1.20M365.80 115.30h1.20M437.60 115.30h-1.20" stroke="#666" stroke-width="0.60" fill="none"/>
<clipPath id="clipBi"><rect x="365.8" y="88.0" width="71.8" height="41.0"/></clipPath>
<g clip-path="url(#clipBi)" fill="none" stroke-width="1.0" stroke-linejoin="round">
<path d="M365.80 121.30L366.40 120.91L367.01 120.41L367.61 119.83L368.21 119.16L368.82 118.43L369.42 117.65L370.02 116.82L370.63 115.83L371.23 114.66L371.83 113.36L372.44 112.00L373.04 110.63L373.64 109.32L374.25 108.11L374.85 106.92L375.45 105.68L376.06 104.45L376.66 103.27L377.26 102.19L377.87 101.26L378.47 100.53L379.07 99.95L379.68 99.39L380.28 98.89L380.88 98.48L381.49 98.20L382.09 98.10L382.69 98.14L383.30 98.24L383.90 98.40L384.50 98.60L385.11 98.85L385.71 99.12L386.31 99.41L386.92 99.75L387.52 100.26L388.12 100.92L388.73 101.67L389.33 102.49L389.93 103.33L390.54 104.16L391.14 104.95L391.74 105.65L392.35 106.31L392.95 107.00L393.55 107.68L394.16 108.35L394.76 108.99L395.36 109.59L395.97 110.12L396.57 110.58L397.17 110.97L397.78 111.32L398.38 111.66L398.98 111.99L399.59 112.29L400.19 112.58L400.79 112.84L401.40 113.08L402.00 113.30L402.61 113.49L403.21 113.65L403.81 113.78L404.42 113.90L405.02 114.00L405.62 114.10L406.23 114.19L406.83 114.28L407.43 114.36L408.04 114.44L408.64 114.52L409.24 114.59L409.85 114.65L410.45 114.71L411.05 114.77L411.66 114.83L412.26 114.88L412.86 114.93L413.47 114.98L414.07 115.03L414.67 115.08L415.28 115.13L415.88 115.18L416.48 115.22L417.09 115.27L417.69 115.31L418.29 115.36L418.90 115.41L419.50 115.45L420.10 115.50L420.71 115.54L421.31 115.58L421.91 115.63L422.52 115.67L423.12 115.71L423.72 115.75L424.33 115.79L424.93 115.83L425.53 115.87L426.14 115.91L426.74 115.95L427.34 115.98L427.95 116.02L428.55 116.05L429.15 116.08L429.76 116.11L430.36 116.14L430.96 116.17L431.57 116.20L432.17 116.23L432.77 116.25L433.38 116.28L433.98 116.30L434.58 116.32L435.19 116.34L435.79 116.36L436.39 116.37L437.00 116.39L437.60 116.40" stroke="#000"/>
<path d="M365.80 121.80L366.40 121.54L367.01 121.28L367.61 121.01L368.21 120.74L368.82 120.47L369.42 120.19L370.02 119.92L370.63 119.63L371.23 119.36L371.83 119.09L372.44 118.83L373.04 118.57L373.64 118.29L374.25 118.00L374.85 117.69L375.45 117.34L376.06 116.96L376.66 116.50L377.26 115.94L377.87 115.31L378.47 114.65L379.07 113.95L379.68 113.27L380.28 112.60L380.88 111.99L381.49 111.44L382.09 110.89L382.69 110.34L383.30 109.81L383.90 109.30L384.50 108.85L385.11 108.46L385.71 108.15L386.31 107.86L386.92 107.58L387.52 107.32L388.12 107.07L388.73 106.86L389.33 106.69L389.93 106.57L390.54 106.51L391.14 106.51L391.74 106.57L392.35 106.67L392.95 106.82L393.55 106.99L394.16 107.19L394.76 107.41L395.36 107.64L395.97 107.86L396.57 108.08L397.17 108.30L397.78 108.55L398.38 108.83L398.98 109.14L399.59 109.47L400.19 109.80L400.79 110.13L401.40 110.44L402.00 110.73L402.61 110.99L403.21 111.21L403.81 111.38L404.42 111.51L405.02 111.64L405.62 111.76L406.23 111.88L406.83 111.99L407.43 112.10L408.04 112.20L408.64 112.29L409.24 112.37L409.85 112.44L410.45 112.50L411.05 112.54L411.66 112.58L412.26 112.60L412.86 112.60L413.47 112.60L414.07 112.60L414.67 112.60L415.28 112.60L415.88 112.60L416.48 112.60L417.09 112.60L417.69 112.60L418.29 112.60L418.90 112.60L419.50 112.60L420.10 112.60L420.71 112.60L421.31 112.60L421.91 112.60L422.52 112.60L423.12 112.60L423.72 112.60L424.33 112.60L424.93 112.60L425.53 112.60L426.14 112.60L426.74 112.60L427.34 112.60L427.95 112.60L428.55 112.60L429.15 112.60L429.76 112.60L430.36 112.60L430.96 112.60L431.57 112.60L432.17 112.60L432.77 112.60L433.38 112.60L433.98 112.60L434.58 112.60L435.19 112.60L435.79 112.60L436.39 112.60L437.00 112.60L437.60 112.60" stroke="#f00"/>
<path d="M369.50 130.00L370.07 129.19L370.64 128.38L371.22 127.55L371.79 126.72L372.36 125.88L372.93 125.02L373.51 124.16L374.08 123.29L374.65 122.40L375.22 121.49L375.79 120.57L376.37 119.63L376.94 118.69L377.51 117.73L378.08 116.78L378.66 115.83L379.23 114.88L379.80 113.94L380.37 113.01L380.95 112.10L381.52 111.20L382.09 110.29L382.66 109.38L383.23 108.46L383.81 107.54L384.38 106.64L384.95 105.74L385.52 104.87L386.10 104.02L386.67 103.20L387.24 102.42L387.81 101.68L388.38 100.98L388.96 100.30L389.53 99.62L390.10 98.96L390.67 98.32L391.25 97.69L391.82 97.09L392.39 96.51L392.96 95.97L393.54 95.46L394.11 94.98L394.68 94.55L395.25 94.17L395.82 93.79L396.40 93.41L396.97 93.04L397.54 92.68L398.11 92.34L398.69 92.03L399.26 91.77L399.83 91.55L400.40 91.40L400.97 91.31L401.55 91.30L402.12 91.33L402.69 91.38L403.26 91.45L403.84 91.54L404.41 91.63L404.98 91.73L405.55 91.83L406.13 91.93L406.70 92.02L407.27 92.09L407.84 92.14L408.41 92.20L408.99 92.25L409.56 92.30L410.13 92.35L410.70 92.39L411.28 92.44L411.85 92.48L412.42 92.53L412.99 92.57L413.56 92.61L414.14 92.65L414.71 92.69L415.28 92.73L415.85 92.77L416.43 92.82L417.00 92.86L417.57 92.91L418.14 92.96L418.72 93.02L419.29 93.07L419.86 93.12L420.43 93.17L421.00 93.22L421.58 93.26L422.15 93.30L422.72 93.34L423.29 93.36L423.87 93.38L424.44 93.40L425.01 93.40L425.58 93.40L426.15 93.40L426.73 93.40L427.30 93.40L427.87 93.40L428.44 93.40L429.02 93.40L429.59 93.40L430.16 93.40L430.73 93.40L431.31 93.40L431.88 93.40L432.45 93.40L433.02 93.40L433.59 93.40L434.17 93.37L434.74 93.29L435.31 93.17L435.88 93.02L436.46 92.85L437.03 92.67L437.60 92.50" stroke="#00f"/>
</g>
<text x="365.80" y="138.30" font-size="9.00" text-anchor="middle" font-family='"Liberation Sans", Arial, sans-serif' fill="#000" >0</text>
<text x="389.70" y="138.30" font-size="9.00" text-anchor="middle" font-family='"Liberation Sans", Arial, sans-serif' fill="#000" >50</text>
<text x="413.60" y="138.30" font-size="9.00" text-anchor="middle" font-family='"Liberation Sans", Arial, sans-serif' fill="#000" >100</text>
<text x="437.50" y="138.30" font-size="9.00" text-anchor="middle" font-family='"Liberation Sans", Arial, sans-serif' fill="#000" >150</text>
<text x="364.20" y="104.90" font-size="9.00" text-anchor="end" font-family='"Liberation Sans", Arial, sans-serif' fill="#000" >10<tspan font-size="6" dy="-4.7">-4</tspan></text>
<text x="364.20" y="131.60" font-size="9.00" text-anchor="end" font-family='"Liberation Sans", Arial, sans-serif' fill="#000" >10<tspan font-size="6" dy="-4.7">-6</tspan></text>
<text x="275.00" y="150.60" font-size="9.00" text-anchor="middle" font-family='"Liberation Sans", Arial, sans-serif' fill="#000" textLength="4.75" lengthAdjust="spacingAndGlyphs">0</text>
<text x="310.12" y="150.60" font-size="9.00" text-anchor="middle" font-family='"Liberation Sans", Arial, sans-serif' fill="#000" textLength="14.26" lengthAdjust="spacingAndGlyphs">200</text>
<text x="345.24" y="150.60" font-size="9.00" text-anchor="middle" font-family='"Liberation Sans", Arial, sans-serif' fill="#000" textLength="14.26" lengthAdjust="spacingAndGlyphs">400</text>
<text x="380.36" y="150.60" font-size="9.00" text-anchor="middle" font-family='"Liberation Sans", Arial, sans-serif' fill="#000" textLength="14.26" lengthAdjust="spacingAndGlyphs">600</text>
<text x="415.48" y="150.60" font-size="9.00" text-anchor="middle" font-family='"Liberation Sans", Arial, sans-serif' fill="#000" textLength="14.26" lengthAdjust="spacingAndGlyphs">800</text>
<text x="450.60" y="150.60" font-size="9.00" text-anchor="middle" font-family='"Liberation Sans", Arial, sans-serif' fill="#000" textLength="19.02" lengthAdjust="spacingAndGlyphs">1000</text>
<text x="273.80" y="28.90" font-size="9.00" text-anchor="end" font-family='"Liberation Sans", Arial, sans-serif' fill="#000" >10<tspan font-size="6" dy="-4.7">-2</tspan></text>
<text x="273.80" y="86.65" font-size="9.00" text-anchor="end" font-family='"Liberation Sans", Arial, sans-serif' fill="#000" >10<tspan font-size="6" dy="-4.7">-4</tspan></text>
<text x="273.80" y="144.40" font-size="9.00" text-anchor="end" font-family='"Liberation Sans", Arial, sans-serif' fill="#000" >10<tspan font-size="6" dy="-4.7">-6</tspan></text>
<text x="355.00" y="157.60" font-size="9.00" text-anchor="start" font-family='"Liberation Sans", Arial, sans-serif' fill="#000" textLength="15.6" lengthAdjust="spacingAndGlyphs">tω<tspan font-size="7.2" dy="3.4">pe</tspan></text>
<g transform="translate(252.9,122.7) rotate(-90)">
<text x="0.00" y="0.00" font-size="9.00" text-anchor="start" font-family='"Liberation Sans", Arial, sans-serif' fill="#000" textLength="57" lengthAdjust="spacingAndGlyphs">Wc<tspan font-size="6.5" dy="-4">2</tspan><tspan dy="4">/ω</tspan><tspan font-size="6.5" dy="-4">2</tspan><tspan font-size="6.5" dy="6.6" dx="-3.6">pe</tspan><tspan dy="-2.6"> m</tspan><tspan font-size="6.5" dy="2.6">e</tspan><tspan dy="-2.6">c</tspan><tspan font-size="6.5" dy="-4">2</tspan></text>
</g>
<defs>
<filter id="fC" color-interpolation-filters="sRGB" x="0" y="0" width="1" height="1" filterUnits="objectBoundingBox">
<feTurbulence type="fractalNoise" baseFrequency="0.5 0.42" numOctaves="1" seed="4" result="n"/>
<feColorMatrix in="n" type="matrix" values="2.2 0 0 0 -0.6  2.2 0 0 0 -0.6  2.2 0 0 0 -0.6  0 0 0 0 1" result="ng"/>
<feComposite in="SourceGraphic" in2="ng" operator="arithmetic" k1="0" k2="1" k3="0.25" k4="-0.165" result="s"/>
<feComponentTransfer in="s" result="cc"><feFuncR type="table" tableValues="1 0 0 0 0.5 1 1 1 0.5"/><feFuncG type="table" tableValues="1 0 0.5 1 1 1 0.5 0 0"/><feFuncB type="table" tableValues="1 1 1 1 0.5 0 0 0 0"/><feFuncA type="linear" slope="0" intercept="1"/></feComponentTransfer><feGaussianBlur stdDeviation="0.8" result="bb"/><feComposite in="cc" in2="bb" operator="arithmetic" k1="0" k2="0.5" k3="0.5" k4="0"/>
</filter>
<filter id="blC" x="-0.5" y="-0.2" width="2" height="1.4"><feGaussianBlur stdDeviation="3 4"/></filter>
<filter id="blC2" x="-0.5" y="-0.2" width="2" height="1.4"><feGaussianBlur stdDeviation="1.2 2.5"/></filter>
<filter id="blC3" x="-1" y="-0.2" width="3" height="1.4"><feGaussianBlur stdDeviation="0.6 2"/></filter>
<linearGradient id="gC" x1="0" x2="1" y1="0" y2="0">
<stop offset="0.00" stop-color="#020202"/>
<stop offset="0.10" stop-color="#070707"/>
<stop offset="0.20" stop-color="#0d0d0d"/>
<stop offset="0.28" stop-color="#141414"/>
<stop offset="0.34" stop-color="#191919"/>
<stop offset="0.50" stop-color="#1c1c1c"/>
<stop offset="0.66" stop-color="#191919"/>
<stop offset="0.72" stop-color="#141414"/>
<stop offset="0.80" stop-color="#0d0d0d"/>
<stop offset="0.90" stop-color="#070707"/>
<stop offset="1.00" stop-color="#020202"/>
</linearGradient>
<clipPath id="clipC"><rect x="514.6" y="24.4" width="160.8" height="114.9"/></clipPath>
</defs>
<g clip-path="url(#clipC)"><g filter="url(#fC)">
<rect x="512.6" y="22.4" width="164.8" height="118.9" fill="url(#gC)"/>
<path d="M584.6 16.4L606.6 16.4L626.6 147.3L564.6 147.3Z" fill="#2b2b2b" filter="url(#blC)"/>
<path d="M591.6 16.4L599.6 16.4L613.6 147.3L577.6 147.3Z" fill="#404040" filter="url(#blC)"/>
<path d="M595.6 40.4L608.6 143.3L582.6 143.3Z" fill="#666666" filter="url(#blC2)"/>
<ellipse cx="595.6" cy="112.0" rx="4.6" ry="32" fill="#858585" filter="url(#blC2)"/>
<ellipse cx="595.6" cy="114.0" rx="3.0" ry="22" fill="#a8a8a8" filter="url(#blC2)"/>
<ellipse cx="595.6" cy="116.5" rx="1.7" ry="12" fill="#cccccc" filter="url(#blC3)"/>
<ellipse cx="595.6" cy="117.5" rx="0.8" ry="7.5" fill="#f7f7f7" filter="url(#blC3)"/>
</g></g>
<rect x="514.60" y="24.40" width="160.80" height="114.90" fill="none" stroke="#888" stroke-width="0.70"/>
<path d="M595.00 139.30v-1.80M595.00 24.40v1.80M514.60 47.38h1.80M675.40 47.38h-1.80M514.60 70.36h1.80M675.40 70.36h-1.80M514.60 93.34h1.80M675.40 93.34h-1.80M514.60 116.32h1.80M675.40 116.32h-1.80" stroke="#666" stroke-width="0.60" fill="none"/>
<rect x="680.5" y="24.4" width="7.1" height="114.9" stroke="#bbb" stroke-width="0.4" fill="url(#cbwjet)"/>
<text x="687.50" y="28.00" font-size="9.00" text-anchor="start" font-family='"Liberation Sans", Arial, sans-serif' fill="#000" textLength="5.00" lengthAdjust="spacingAndGlyphs">4</text>
<text x="687.50" y="56.68" font-size="9.00" text-anchor="start" font-family='"Liberation Sans", Arial, sans-serif' fill="#000" textLength="5.00" lengthAdjust="spacingAndGlyphs">3</text>
<text x="687.50" y="85.36" font-size="9.00" text-anchor="start" font-family='"Liberation Sans", Arial, sans-serif' fill="#000" textLength="5.00" lengthAdjust="spacingAndGlyphs">2</text>
<text x="687.50" y="114.04" font-size="9.00" text-anchor="start" font-family='"Liberation Sans", Arial, sans-serif' fill="#000" textLength="5.00" lengthAdjust="spacingAndGlyphs">1</text>
<text x="687.50" y="142.72" font-size="9.00" text-anchor="start" font-family='"Liberation Sans", Arial, sans-serif' fill="#000" textLength="5.00" lengthAdjust="spacingAndGlyphs">0</text>
<text x="512.60" y="27.50" font-size="9.20" text-anchor="end" font-family='"Liberation Sans", Arial, sans-serif' fill="#000" textLength="4.86" lengthAdjust="spacingAndGlyphs">5</text>
<text x="512.60" y="50.48" font-size="9.20" text-anchor="end" font-family='"Liberation Sans", Arial, sans-serif' fill="#000" textLength="4.86" lengthAdjust="spacingAndGlyphs">4</text>
<text x="512.60" y="73.46" font-size="9.20" text-anchor="end" font-family='"Liberation Sans", Arial, sans-serif' fill="#000" textLength="4.86" lengthAdjust="spacingAndGlyphs">3</text>
<text x="512.60" y="96.44" font-size="9.20" text-anchor="end" font-family='"Liberation Sans", Arial, sans-serif' fill="#000" textLength="4.86" lengthAdjust="spacingAndGlyphs">2</text>
<text x="512.60" y="119.42" font-size="9.20" text-anchor="end" font-family='"Liberation Sans", Arial, sans-serif' fill="#000" textLength="4.86" lengthAdjust="spacingAndGlyphs">1</text>
<text x="512.60" y="142.40" font-size="9.20" text-anchor="end" font-family='"Liberation Sans", Arial, sans-serif' fill="#000" textLength="4.86" lengthAdjust="spacingAndGlyphs">0</text>
<text x="513.30" y="147.70" font-size="9.00" text-anchor="middle" font-family='"Liberation Sans", Arial, sans-serif' fill="#000" textLength="7.60" lengthAdjust="spacingAndGlyphs">-5</text>
<text x="595.00" y="147.70" font-size="9.00" text-anchor="middle" font-family='"Liberation Sans", Arial, sans-serif' fill="#000" textLength="4.75" lengthAdjust="spacingAndGlyphs">0</text>
<text x="675.40" y="147.70" font-size="9.00" text-anchor="middle" font-family='"Liberation Sans", Arial, sans-serif' fill="#000" textLength="4.75" lengthAdjust="spacingAndGlyphs">5</text>
<text x="580.90" y="154.30" font-size="9.00" text-anchor="start" font-family='"Liberation Sans", Arial, sans-serif' fill="#000" textLength="27.1" lengthAdjust="spacingAndGlyphs">k<tspan font-size="7.2" dy="3.4">x</tspan><tspan dy="-3.4" dx="1.2">c/ω</tspan><tspan font-size="7.2" dy="3.4">pe</tspan></text>
<g transform="translate(500.8,95.7) rotate(-90)">
<text x="0.00" y="0.00" font-size="9.00" text-anchor="start" font-family='"Liberation Sans", Arial, sans-serif' fill="#000" textLength="26.4" lengthAdjust="spacingAndGlyphs">k<tspan font-size="7.2" dy="3.4">y</tspan><tspan dy="-3.4" dx="1.2">c/ω</tspan><tspan font-size="7.2" dy="3.4">pe</tspan></text>
</g>
<rect x="14.50" y="213.30" width="161.50" height="97.80" fill="none" stroke="#b0b0b0" stroke-width="0.80"/>
<path d="M14.50 311.10v-1.80M14.50 213.30v1.80M54.88 311.10v-1.80M54.88 213.30v1.80M95.25 311.10v-1.80M95.25 213.30v1.80M135.62 311.10v-1.80M135.62 213.30v1.80M176.00 311.10v-1.80M176.00 213.30v1.80M14.50 213.30h1.80M176.00 213.30h-1.80M14.50 237.68h1.80M176.00 237.68h-1.80M14.50 262.05h1.80M176.00 262.05h-1.80M14.50 286.43h1.80M176.00 286.43h-1.80M14.50 310.80h1.80M176.00 310.80h-1.80" stroke="#999" stroke-width="0.60" fill="none"/>
<path d="M14.5 261.9H176.0" stroke="#d4d0a4" stroke-width="0.5" stroke-dasharray="1.2 1.8" fill="none"/>
<clipPath id="clipD"><rect x="14.5" y="213.3" width="161.5" height="97.8"/></clipPath>
<g clip-path="url(#clipD)" fill="none" stroke-width="0.95" stroke-linejoin="round">
<path d="M14.10 275.41L15.06 275.15L16.02 275.51L16.97 275.15L17.93 276.45L18.89 276.69L19.85 276.92L20.81 277.55L21.76 277.91L22.72 277.70L23.68 278.02L24.64 278.35L25.60 278.84L26.55 278.74L27.51 277.86L28.47 277.59L29.43 277.81L30.39 277.65L31.34 276.58L32.30 275.70L33.26 275.53L34.22 274.16L35.18 273.58L36.13 272.81L37.09 271.24L38.05 269.69L39.01 268.53L39.97 266.72L40.92 265.63L41.88 264.26L42.84 263.15L43.80 261.80L44.76 260.60L45.71 259.11L46.67 257.75L47.63 256.21L48.59 254.86L49.55 254.04L50.50 251.96L51.46 251.96L52.42 250.50L53.38 249.31L54.34 248.91L55.29 248.32L56.25 248.07L57.21 246.81L58.17 246.81L59.13 246.36L60.08 245.33L61.04 245.08L62.00 245.21L62.96 244.78L63.92 244.62L64.87 244.42L65.83 244.63L66.79 244.94L67.75 245.79L68.71 245.49L69.66 246.11L70.62 246.68L71.58 246.41L72.54 247.91L73.50 247.75L74.45 248.76L75.41 250.47L76.37 250.47L77.33 251.70L78.29 253.60L79.24 253.94L80.20 255.55L81.16 257.35L82.12 258.85L83.08 260.45L84.03 261.91L84.99 263.80L85.95 265.35L86.91 266.89L87.87 268.05L88.82 269.48L89.78 270.30L90.74 272.35L91.70 272.50L92.66 274.32L93.61 275.41L94.57 275.13L95.53 275.80L96.49 276.03L97.44 276.46L98.40 275.80L99.36 275.95L100.32 275.68L101.28 275.63L102.23 276.01L103.19 275.05L104.15 275.17L105.11 274.94L106.07 274.80L107.02 273.67L107.98 274.07L108.94 273.38L109.90 273.02L110.86 272.14L111.81 270.85L112.77 270.45L113.73 270.16L114.69 269.06L115.65 268.17L116.60 267.86L117.56 266.97L118.52 265.10L119.48 264.66L120.44 262.16L121.39 261.02L122.35 260.94L123.31 259.43L124.27 258.60L125.23 257.45L126.18 256.12L127.14 255.24L128.10 253.82L129.06 252.02L130.02 251.54L130.97 250.66L131.93 250.56L132.89 248.92L133.85 248.76L134.81 248.12L135.76 247.80L136.72 248.08L137.68 247.36L138.64 246.81L139.60 246.79L140.55 246.81L141.51 246.08L142.47 246.31L143.43 247.03L144.39 246.96L145.34 246.87L146.30 246.97L147.26 247.35L148.22 247.17L149.18 248.42L150.13 248.67L151.09 249.15L152.05 249.32L153.01 250.54L153.97 252.28L154.92 253.68L155.88 254.93L156.84 256.75L157.80 258.47L158.76 259.55L159.71 261.24L160.67 262.69L161.63 264.03L162.59 266.09L163.55 267.32L164.50 268.52L165.46 269.18L166.42 270.34L167.38 271.79L168.34 272.73L169.29 273.86L170.25 274.33L171.21 275.38L172.17 276.31L173.13 276.70L174.08 277.11L175.04 276.86L176.00 277.32" stroke="#f00"/>
<path d="M14.10 267.45L15.06 269.20L16.02 269.80L16.97 270.74L17.93 271.47L18.89 272.71L19.85 273.22L20.81 273.77L21.76 273.62L22.72 274.25L23.68 273.42L24.64 274.17L25.60 273.06L26.55 272.81L27.51 272.56L28.47 272.05L29.43 272.29L30.39 273.01L31.34 273.76L32.30 272.74L33.26 272.62L34.22 272.28L35.18 270.85L36.13 270.02L37.09 269.80L38.05 269.22L39.01 268.32L39.97 268.29L40.92 266.81L41.88 266.20L42.84 265.86L43.80 265.03L44.76 262.83L45.71 262.43L46.67 262.19L47.63 260.35L48.59 259.76L49.55 258.86L50.50 258.11L51.46 257.49L52.42 257.31L53.38 257.06L54.34 256.49L55.29 255.21L56.25 253.77L57.21 253.89L58.17 253.13L59.13 252.75L60.08 251.74L61.04 250.25L62.00 250.68L62.96 249.74L63.92 250.55L64.87 251.33L65.83 251.78L66.79 252.68L67.75 251.50L68.71 252.99L69.66 253.57L70.62 253.62L71.58 254.49L72.54 254.31L73.50 255.56L74.45 256.09L75.41 256.07L76.37 256.80L77.33 257.60L78.29 258.02L79.24 259.30L80.20 259.56L81.16 260.63L82.12 261.20L83.08 261.39L84.03 261.94L84.99 262.31L85.95 263.06L86.91 263.78L87.87 264.96L88.82 265.19L89.78 266.27L90.74 267.00L91.70 267.50L92.66 268.39L93.61 269.68L94.57 270.12L95.53 269.30L96.49 269.66L97.44 269.69L98.40 269.82L99.36 270.61L100.32 270.32L101.28 270.59L102.23 270.81L103.19 269.92L104.15 269.98L105.11 270.01L106.07 270.31L107.02 269.75L107.98 269.91L108.94 269.98L109.90 269.74L110.86 269.06L111.81 268.06L112.77 267.17L113.73 267.65L114.69 266.81L115.65 265.75L116.60 265.43L117.56 264.96L118.52 263.98L119.48 264.27L120.44 263.37L121.39 263.08L122.35 263.03L123.31 262.23L124.27 262.02L125.23 261.51L126.18 260.90L127.14 260.44L128.10 260.69L129.06 259.39L130.02 259.61L130.97 258.09L131.93 258.24L132.89 257.53L133.85 256.71L134.81 255.52L135.76 256.82L136.72 255.35L137.68 255.07L138.64 255.14L139.60 254.74L140.55 254.43L141.51 253.73L142.47 252.64L143.43 253.02L144.39 251.89L145.34 252.19L146.30 252.49L147.26 253.12L148.22 253.09L149.18 253.64L150.13 254.23L151.09 254.14L152.05 255.20L153.01 255.76L153.97 256.37L154.92 257.55L155.88 257.99L156.84 259.39L157.80 259.99L158.76 259.28L159.71 260.73L160.67 260.93L161.63 262.21L162.59 262.71L163.55 263.67L164.50 264.06L165.46 264.93L166.42 265.22L167.38 265.00L168.34 266.09L169.29 266.63L170.25 267.10L171.21 267.21L172.17 268.55L173.13 268.08L174.08 268.85L175.04 268.32L176.00 269.16" stroke="#00f"/>
<path d="M14.10 236.72L15.06 239.55L16.02 241.81L16.97 244.60L17.93 247.28L18.89 249.28L19.85 251.86L20.81 254.46L21.76 256.81L22.72 259.02L23.68 261.79L24.64 264.00L25.60 266.58L26.55 268.86L27.51 271.12L28.47 273.71L29.43 276.46L30.39 278.46L31.34 280.90L32.30 283.24L33.26 285.36L34.22 287.33L35.18 288.91L36.13 291.31L37.09 292.78L38.05 294.58L39.01 296.36L39.97 298.26L40.92 300.05L41.88 301.80L42.84 303.22L43.80 303.45L44.76 303.73L45.71 304.22L46.67 303.46L47.63 302.30L48.59 301.04L49.55 298.65L50.50 296.35L51.46 293.82L52.42 291.45L53.38 289.20L54.34 286.74L55.29 284.50L56.25 282.52L57.21 280.17L58.17 278.44L59.13 276.06L60.08 273.92L61.04 271.71L62.00 269.94L62.96 267.62L63.92 265.35L64.87 263.29L65.83 260.93L66.79 258.72L67.75 256.47L68.71 253.85L69.66 251.57L70.62 249.17L71.58 246.87L72.54 244.35L73.50 241.73L74.45 239.06L75.41 236.67L76.37 234.06L77.33 232.10L78.29 230.04L79.24 228.25L80.20 226.42L81.16 225.12L82.12 224.15L83.08 223.82L84.03 223.78L84.99 224.66L85.95 225.59L86.91 227.32L87.87 228.74L88.82 231.68L89.78 233.74L90.74 236.05L91.70 238.27L92.66 240.89L93.61 243.72L94.57 246.05L95.53 248.46L96.49 250.84L97.44 252.96L98.40 254.72L99.36 256.95L100.32 258.98L101.28 261.02L102.23 262.81L103.19 264.74L104.15 266.83L105.11 268.70L106.07 270.68L107.02 272.33L107.98 274.35L108.94 275.58L109.90 277.32L110.86 279.20L111.81 280.70L112.77 282.13L113.73 283.92L114.69 285.46L115.65 286.95L116.60 288.07L117.56 289.43L118.52 290.66L119.48 291.81L120.44 293.04L121.39 293.61L122.35 294.21L123.31 294.20L124.27 294.87L125.23 295.00L126.18 294.33L127.14 293.79L128.10 292.56L129.06 291.54L130.02 289.66L130.97 287.95L131.93 285.93L132.89 283.73L133.85 281.94L134.81 280.08L135.76 278.59L136.72 276.23L137.68 274.21L138.64 272.12L139.60 269.92L140.55 267.61L141.51 265.21L142.47 263.07L143.43 261.23L144.39 258.84L145.34 256.51L146.30 254.03L147.26 251.72L148.22 249.00L149.18 246.00L150.13 243.28L151.09 240.17L152.05 237.47L153.01 234.79L153.97 231.90L154.92 229.49L155.88 227.21L156.84 225.22L157.80 223.64L158.76 222.75L159.71 223.00L160.67 223.29L161.63 223.84L162.59 224.84L163.55 226.88L164.50 229.36L165.46 232.43L166.42 235.11L167.38 238.18L168.34 240.90L169.29 244.13L170.25 246.69L171.21 249.65L172.17 252.54L173.13 254.98L174.08 257.71L175.04 259.62L176.00 262.20" stroke="#000"/>
<path d="M15.70 270.21L16.65 268.73L17.60 266.52L18.55 266.87L19.49 263.68L20.44 264.92L21.39 263.44L22.34 262.96L23.29 261.20L24.24 259.79L25.19 259.47L26.13 258.80L27.08 258.90L28.03 257.68L28.98 257.70L29.93 257.30L30.88 257.50L31.82 254.68L32.77 255.42L33.72 255.89L34.67 255.72L35.62 254.82L36.57 255.08L37.52 255.31L38.46 255.64L39.41 255.36L40.36 255.61L41.31 256.03L42.26 257.63L43.21 259.99L44.16 259.49L45.10 262.08L46.05 264.03L47.00 264.07L47.95 266.94L48.90 266.35L49.85 268.27L50.80 267.55L51.74 267.14L52.69 268.54L53.64 269.80L54.59 268.10L55.54 268.67L56.49 267.30L57.43 266.96L58.38 267.48L59.33 266.69L60.28 266.94L61.23 267.18L62.18 265.18L63.13 265.17L64.07 265.21L65.02 266.04L65.97 263.18L66.92 261.87L67.87 260.81L68.82 259.84L69.77 256.04L70.71 254.89L71.66 253.89L72.61 253.50L73.56 254.28L74.51 251.98L75.46 251.91L76.41 253.49L77.35 254.16L78.30 253.20L79.25 255.71L80.20 258.13L81.15 258.26L82.10 260.15L83.04 261.07L83.99 262.42L84.94 263.12L85.89 263.74L86.84 265.11L87.79 264.50L88.74 265.67L89.68 267.22L90.63 267.04L91.58 267.60L92.53 266.64L93.48 265.34L94.43 266.51L95.38 264.53L96.32 264.66L97.27 263.15L98.22 262.18L99.17 261.56L100.12 261.65L101.07 261.17L102.02 261.53L102.96 259.90L103.91 260.11L104.86 259.73L105.81 258.67L106.76 258.21L107.71 258.49L108.66 258.29L109.60 257.64L110.55 257.56L111.50 257.10L112.45 257.86L113.40 257.39L114.35 256.38L115.29 257.25L116.24 257.90L117.19 257.68L118.14 257.09L119.09 258.69L120.04 259.23L120.99 259.97L121.93 261.47L122.88 261.58L123.83 263.78L124.78 264.39L125.73 266.41L126.68 267.43L127.63 267.39L128.57 267.83L129.52 266.94L130.47 268.06L131.42 266.80L132.37 269.01L133.32 268.06L134.27 265.86L135.21 264.72L136.16 267.15L137.11 265.32L138.06 265.93L139.01 264.18L139.96 264.51L140.90 262.68L141.85 261.65L142.80 259.34L143.75 258.90L144.70 255.92L145.65 256.61L146.60 255.22L147.54 255.19L148.49 253.41L149.44 253.12L150.39 255.06L151.34 253.76L152.29 254.95L153.24 255.73L154.18 256.19L155.13 257.91L156.08 258.20L157.03 259.98L157.98 262.83L158.93 262.67L159.88 264.74L160.82 265.55L161.77 266.87L162.72 266.63L163.67 265.42L164.62 266.59L165.57 267.04L166.51 268.39L167.46 267.84L168.41 267.18L169.36 267.59L170.31 266.67L171.26 266.86L172.21 265.94L173.15 265.41L174.10 263.43L175.05 262.57L176.00 260.59" stroke="#0f0"/>
</g>
<rect x="178.2" y="235.2" width="52.5" height="53.9" fill="#fff" stroke="#666" stroke-width="0.6"/>
<path d="M180 242.0H187.6" stroke="#f00" stroke-width="0.95"/>
<text x="188.40" y="241.80" font-size="8.00" text-anchor="start" font-family='"Liberation Sans", Arial, sans-serif' fill="#000" textLength="40.6" lengthAdjust="spacingAndGlyphs">nv<tspan font-size="6.2" dy="3.2">x</tspan><tspan dy="-3.2">/n</tspan><tspan font-size="6.2" dy="3.2">0</tspan><tspan dy="-3.2">c Ions</tspan></text>
<path d="M180 254.8H187.6" stroke="#00f" stroke-width="0.95"/>
<text x="188.40" y="254.60" font-size="8.00" text-anchor="start" font-family='"Liberation Sans", Arial, sans-serif' fill="#000" textLength="32.2" lengthAdjust="spacingAndGlyphs">nv<tspan font-size="6.2" dy="3.2">x</tspan><tspan dy="-3.2">/n</tspan><tspan font-size="6.2" dy="3.2">0</tspan><tspan dy="-3.2">c e</tspan><tspan font-size="6.2" dy="-3.6">-</tspan></text>
<path d="M180 269.7H187.6" stroke="#000" stroke-width="0.95"/>
<text x="188.40" y="269.50" font-size="8.00" text-anchor="start" font-family='"Liberation Sans", Arial, sans-serif' fill="#000" textLength="35.8" lengthAdjust="spacingAndGlyphs">eB<tspan font-size="6.2" dy="3.2">z</tspan><tspan dy="-3.2">/m</tspan><tspan font-size="6.2" dy="3.2">e</tspan><tspan dy="-3.2">ω</tspan><tspan font-size="6.2" dy="3.2">pe</tspan></text>
<path d="M180 281.9H187.6" stroke="#0f0" stroke-width="0.95"/>
<text x="188.40" y="281.70" font-size="8.00" text-anchor="start" font-family='"Liberation Sans", Arial, sans-serif' fill="#000" textLength="39.4" lengthAdjust="spacingAndGlyphs">eE<tspan font-size="6.2" dy="3.2">y</tspan><tspan dy="-3.2">/m</tspan><tspan font-size="6.2" dy="3.2">e</tspan><tspan dy="-3.2">cω</tspan><tspan font-size="6.2" dy="3.2">pe</tspan></text>
<text x="13.50" y="319.00" font-size="7.70" text-anchor="middle" font-family='"Liberation Sans", Arial, sans-serif' fill="#000" textLength="10.01" lengthAdjust="spacingAndGlyphs">-40</text>
<text x="53.88" y="319.00" font-size="7.70" text-anchor="middle" font-family='"Liberation Sans", Arial, sans-serif' fill="#000" textLength="10.01" lengthAdjust="spacingAndGlyphs">-35</text>
<text x="94.25" y="319.00" font-size="7.70" text-anchor="middle" font-family='"Liberation Sans", Arial, sans-serif' fill="#000" textLength="10.01" lengthAdjust="spacingAndGlyphs">-30</text>
<text x="134.62" y="319.00" font-size="7.70" text-anchor="middle" font-family='"Liberation Sans", Arial, sans-serif' fill="#000" textLength="10.01" lengthAdjust="spacingAndGlyphs">-25</text>
<text x="175.00" y="319.00" font-size="7.70" text-anchor="middle" font-family='"Liberation Sans", Arial, sans-serif' fill="#000" textLength="10.01" lengthAdjust="spacingAndGlyphs">-20</text>
<text x="12.90" y="216.50" font-size="7.80" text-anchor="end" font-family='"Liberation Sans", Arial, sans-serif' fill="#000" textLength="9.76" lengthAdjust="spacingAndGlyphs">0.2</text>
<text x="12.90" y="240.88" font-size="7.80" text-anchor="end" font-family='"Liberation Sans", Arial, sans-serif' fill="#000" textLength="9.76" lengthAdjust="spacingAndGlyphs">0.1</text>
<text x="12.90" y="265.25" font-size="7.80" text-anchor="end" font-family='"Liberation Sans", Arial, sans-serif' fill="#000" textLength="3.90" lengthAdjust="spacingAndGlyphs">0</text>
<text x="12.90" y="289.62" font-size="7.80" text-anchor="end" font-family='"Liberation Sans", Arial, sans-serif' fill="#000" textLength="12.10" lengthAdjust="spacingAndGlyphs">-0.1</text>
<text x="12.90" y="314.00" font-size="7.80" text-anchor="end" font-family='"Liberation Sans", Arial, sans-serif' fill="#000" textLength="12.10" lengthAdjust="spacingAndGlyphs">-0.2</text>
<text x="80.90" y="326.90" font-size="8.00" text-anchor="start" font-family='"Liberation Sans", Arial, sans-serif' fill="#000" textLength="28.5" lengthAdjust="spacingAndGlyphs">y (c/ω<tspan font-size="6.2" dy="2.8">pe</tspan><tspan dy="-2.8">)</tspan></text>
<defs>
<filter id="fE" color-interpolation-filters="sRGB" x="0" y="0" width="1" height="1">
<feTurbulence type="fractalNoise" baseFrequency="0.02 0.17" numOctaves="3" seed="8" result="n"/>
<feColorMatrix in="n" type="matrix" values="0 1.6 0 0 -0.3  0 1.6 0 0 -0.3  0 1.6 0 0 -0.3  0 0 0 0 1" result="ng"/>
<feComposite in="SourceGraphic" in2="ng" operator="arithmetic" k1="0" k2="1" k3="0.5" k4="-0.25" result="s"/>
<feComponentTransfer in="s"><feFuncR type="table" tableValues="0 0 0 0 0.5 1 1 1 0.5"/><feFuncG type="table" tableValues="0 0 0.5 1 1 1 0.5 0 0"/><feFuncB type="table" tableValues="0.5 1 1 1 0.5 0 0 0 0"/><feFuncA type="linear" slope="0" intercept="1"/></feComponentTransfer>
</filter>
<filter id="blE" x="-0.1" y="-0.1" width="1.2" height="1.2"><feGaussianBlur stdDeviation="3.5 0.9"/></filter>
<clipPath id="clipE"><rect x="274.4" y="194.5" width="161.4" height="114.8"/></clipPath>
</defs>
<g clip-path="url(#clipE)"><g filter="url(#fE)">
<rect x="266.4" y="186.5" width="177.4" height="130.8" fill="#878787"/>
<g filter="url(#blE)">
<rect x="266.4" y="186.5" width="177.4" height="130.8" fill="#878787"/>
<path transform="rotate(-2.3 320.8 196.0)" d="M289.8 196.0Q320.8 191.5 351.8 196.0Q320.8 200.5 289.8 196.0Z" fill="#fff" fill-opacity="1.00"/>
<path transform="rotate(1.3 288.3 200.1)" d="M265.8 200.1Q288.3 194.3 310.8 200.1Q288.3 205.9 265.8 200.1Z" fill="#fff" fill-opacity="0.84"/>
<path transform="rotate(0.9 351.5 207.0)" d="M340.6 207.0Q351.5 202.5 362.4 207.0Q351.5 211.5 340.6 207.0Z" fill="#fff" fill-opacity="0.78"/>
<path transform="rotate(-0.1 279.2 212.8)" d="M270.8 212.8Q279.2 209.4 287.6 212.8Q279.2 216.2 270.8 212.8Z" fill="#fff" fill-opacity="0.62"/>
<path transform="rotate(-2.0 328.0 220.9)" d="M318.2 220.9Q328.0 217.3 337.8 220.9Q328.0 224.5 318.2 220.9Z" fill="#fff" fill-opacity="0.90"/>
<path transform="rotate(2.0 281.0 225.4)" d="M268.6 225.4Q281.0 221.4 293.4 225.4Q281.0 229.4 268.6 225.4Z" fill="#fff" fill-opacity="0.56"/>
<path transform="rotate(2.2 319.0 233.2)" d="M296.5 233.2Q319.0 229.2 341.5 233.2Q319.0 237.2 296.5 233.2Z" fill="#fff" fill-opacity="1.00"/>
<path transform="rotate(0.1 344.3 237.2)" d="M327.2 237.2Q344.3 233.2 361.4 237.2Q344.3 241.2 327.2 237.2Z" fill="#fff" fill-opacity="0.67"/>
<path transform="rotate(0.0 304.5 238.0)" d="M287.4 238.0Q304.5 234.6 321.6 238.0Q304.5 241.4 287.4 238.0Z" fill="#fff" fill-opacity="0.62"/>
<path transform="rotate(-1.8 290.0 244.4)" d="M272.9 244.4Q290.0 241.0 307.1 244.4Q290.0 247.8 272.9 244.4Z" fill="#fff" fill-opacity="0.50"/>
<path transform="rotate(-3.5 347.9 230.0)" d="M337.0 230.0Q347.9 226.6 358.8 230.0Q347.9 233.4 337.0 230.0Z" fill="#fff" fill-opacity="0.56"/>
<path transform="rotate(-0.9 375.7 205.5)" d="M342.1 205.5Q375.7 201.7 409.3 205.5Q375.7 209.3 342.1 205.5Z" fill="#fff" fill-opacity="0.95"/>
<path transform="rotate(0.6 406.4 208.6)" d="M383.9 208.6Q406.4 204.6 428.9 208.6Q406.4 212.6 383.9 208.6Z" fill="#fff" fill-opacity="0.90"/>
<path transform="rotate(-3.0 408.2 213.7)" d="M371.8 213.7Q408.2 210.1 444.6 213.7Q408.2 217.3 371.8 213.7Z" fill="#fff" fill-opacity="1.00"/>
<path transform="rotate(2.1 426.3 196.0)" d="M412.4 196.0Q426.3 193.1 440.2 196.0Q426.3 198.9 412.4 196.0Z" fill="#fff" fill-opacity="0.67"/>
<path transform="rotate(-1.9 364.8 197.4)" d="M347.8 197.4Q364.8 194.0 381.9 197.4Q364.8 200.8 347.8 197.4Z" fill="#fff" fill-opacity="0.50"/>
<path transform="rotate(-1.9 372.0 216.4)" d="M350.3 216.4Q372.0 213.5 393.7 216.4Q372.0 219.3 350.3 216.4Z" fill="#fff" fill-opacity="0.56"/>
<path transform="rotate(-3.2 395.5 236.3)" d="M367.6 236.3Q395.5 231.8 423.4 236.3Q395.5 240.8 367.6 236.3Z" fill="#fff" fill-opacity="0.67"/>
<path transform="rotate(3.5 359.4 239.9)" d="M345.4 239.9Q359.4 235.9 373.3 239.9Q359.4 243.9 345.4 239.9Z" fill="#fff" fill-opacity="0.84"/>
<path transform="rotate(1.7 429.9 228.1)" d="M420.6 228.1Q429.9 224.5 439.2 228.1Q429.9 231.7 420.6 228.1Z" fill="#fff" fill-opacity="0.67"/>
<path transform="rotate(2.6 398.0 251.8)" d="M363.9 251.8Q398.0 248.2 432.1 251.8Q398.0 255.4 363.9 251.8Z" fill="#fff" fill-opacity="1.00"/>
<path transform="rotate(0.8 429.9 244.4)" d="M420.6 244.4Q429.9 241.5 439.2 244.4Q429.9 247.3 420.6 244.4Z" fill="#fff" fill-opacity="0.56"/>
<path transform="rotate(-3.3 291.9 259.0)" d="M262.9 259.0Q291.9 254.3 320.9 259.0Q291.9 263.7 262.9 259.0Z" fill="#fff" fill-opacity="0.90"/>
<path transform="rotate(-1.2 333.4 273.1)" d="M300.8 273.1Q333.4 269.3 365.9 273.1Q333.4 276.9 300.8 273.1Z" fill="#fff" fill-opacity="1.00"/>
<path transform="rotate(-0.0 282.8 282.5)" d="M266.5 282.5Q282.8 276.7 299.1 282.5Q282.8 288.3 266.5 282.5Z" fill="#fff" fill-opacity="0.90"/>
<path transform="rotate(-2.7 322.6 290.1)" d="M289.0 290.1Q322.6 285.8 356.2 290.1Q322.6 294.4 289.0 290.1Z" fill="#fff" fill-opacity="0.73"/>
<path transform="rotate(3.2 277.4 268.1)" d="M268.9 268.1Q277.4 264.7 285.9 268.1Q277.4 271.5 268.9 268.1Z" fill="#fff" fill-opacity="0.62"/>
<path transform="rotate(-0.9 313.5 307.8)" d="M296.4 307.8Q313.5 304.2 330.6 307.8Q313.5 311.4 296.4 307.8Z" fill="#fff" fill-opacity="0.67"/>
<path transform="rotate(-2.4 282.8 305.1)" d="M268.9 305.1Q282.8 301.7 296.8 305.1Q282.8 308.5 268.9 305.1Z" fill="#fff" fill-opacity="0.62"/>
<path transform="rotate(2.2 349.7 253.6)" d="M338.8 253.6Q349.7 250.2 360.6 253.6Q349.7 257.0 338.8 253.6Z" fill="#fff" fill-opacity="0.50"/>
<path transform="rotate(-2.6 361.2 270.8)" d="M347.2 270.8Q361.2 264.1 375.1 270.8Q361.2 277.5 347.2 270.8Z" fill="#fff" fill-opacity="0.95"/>
<path transform="rotate(3.0 422.6 284.0)" d="M400.1 284.0Q422.6 279.7 445.1 284.0Q422.6 288.3 400.1 284.0Z" fill="#fff" fill-opacity="0.90"/>
<path transform="rotate(-0.3 390.1 279.8)" d="M367.6 279.8Q390.1 276.4 412.6 279.8Q390.1 283.2 367.6 279.8Z" fill="#fff" fill-opacity="0.50"/>
<path transform="rotate(0.4 384.7 297.3)" d="M365.2 297.3Q384.7 293.0 404.2 297.3Q384.7 301.6 365.2 297.3Z" fill="#fff" fill-opacity="1.00"/>
<path transform="rotate(-1.1 357.6 293.4)" d="M346.8 293.4Q357.6 290.0 368.5 293.4Q357.6 296.8 346.8 293.4Z" fill="#fff" fill-opacity="0.78"/>
<path transform="rotate(-0.1 429.9 262.6)" d="M419.0 262.6Q429.9 259.2 440.8 262.6Q429.9 266.0 419.0 262.6Z" fill="#fff" fill-opacity="0.62"/>
<path transform="rotate(-2.2 426.3 306.9)" d="M412.4 306.9Q426.3 303.5 440.2 306.9Q426.3 310.3 412.4 306.9Z" fill="#fff" fill-opacity="0.62"/>
<path transform="rotate(-3.2 313.5 204.6)" d="M282.5 204.6Q313.5 201.0 344.5 204.6Q313.5 208.2 282.5 204.6Z" fill="#000" fill-opacity="0.45"/>
<path transform="rotate(2.6 320.8 215.1)" d="M284.4 215.1Q320.8 210.8 357.2 215.1Q320.8 219.4 284.4 215.1Z" fill="#000" fill-opacity="0.78"/>
<path transform="rotate(-1.9 331.6 225.4)" d="M294.4 225.4Q331.6 219.6 368.8 225.4Q331.6 231.2 294.4 225.4Z" fill="#000" fill-opacity="1.00"/>
<path transform="rotate(2.0 279.2 230.0)" d="M270.8 230.0Q279.2 226.4 287.6 230.0Q279.2 233.6 270.8 230.0Z" fill="#000" fill-opacity="0.78"/>
<path transform="rotate(-2.0 282.8 241.7)" d="M268.9 241.7Q282.8 238.1 296.8 241.7Q282.8 245.3 268.9 241.7Z" fill="#000" fill-opacity="0.78"/>
<path transform="rotate(3.3 308.0 247.0)" d="M285.5 247.0Q308.0 242.7 330.5 247.0Q308.0 251.3 285.5 247.0Z" fill="#000" fill-opacity="0.78"/>
<path transform="rotate(2.8 395.5 197.0)" d="M378.4 197.0Q395.5 194.1 412.6 197.0Q395.5 199.9 378.4 197.0Z" fill="#000" fill-opacity="0.73"/>
<path transform="rotate(1.8 408.0 201.0)" d="M380.1 201.0Q408.0 197.9 435.9 201.0Q408.0 204.1 380.1 201.0Z" fill="#000" fill-opacity="0.34"/>
<path transform="rotate(1.8 364.8 224.5)" d="M340.0 224.5Q364.8 219.3 389.6 224.5Q364.8 229.7 340.0 224.5Z" fill="#000" fill-opacity="1.00"/>
<path transform="rotate(0.6 401.0 227.2)" d="M373.1 227.2Q401.0 222.0 428.9 227.2Q401.0 232.4 373.1 227.2Z" fill="#000" fill-opacity="0.95"/>
<path transform="rotate(1.6 426.3 220.9)" d="M412.4 220.9Q426.3 217.5 440.2 220.9Q426.3 224.3 412.4 220.9Z" fill="#000" fill-opacity="0.62"/>
<path transform="rotate(-2.6 399.2 242.6)" d="M376.7 242.6Q399.2 239.0 421.7 242.6Q399.2 246.2 376.7 242.6Z" fill="#000" fill-opacity="0.78"/>
<path transform="rotate(-0.2 429.9 239.9)" d="M419.0 239.9Q429.9 236.5 440.8 239.9Q429.9 243.3 419.0 239.9Z" fill="#000" fill-opacity="0.67"/>
<path transform="rotate(2.3 368.5 247.1)" d="M351.4 247.1Q368.5 243.5 385.6 247.1Q368.5 250.7 351.4 247.1Z" fill="#000" fill-opacity="0.73"/>
<path transform="rotate(-2.1 299.1 254.0)" d="M271.2 254.0Q299.1 249.7 327.0 254.0Q299.1 258.3 271.2 254.0Z" fill="#000" fill-opacity="0.95"/>
<path transform="rotate(3.0 344.3 259.0)" d="M327.2 259.0Q344.3 255.6 361.4 259.0Q344.3 262.4 327.2 259.0Z" fill="#000" fill-opacity="0.73"/>
<path transform="rotate(2.7 297.3 267.2)" d="M261.7 267.2Q297.3 261.4 332.9 267.2Q297.3 273.0 261.7 267.2Z" fill="#000" fill-opacity="1.00"/>
<path transform="rotate(-0.6 282.8 293.4)" d="M268.9 293.4Q282.8 288.2 296.8 293.4Q282.8 298.6 268.9 293.4Z" fill="#000" fill-opacity="1.00"/>
<path transform="rotate(-0.9 320.8 296.6)" d="M289.8 296.6Q320.8 291.4 351.8 296.6Q320.8 301.8 289.8 296.6Z" fill="#000" fill-opacity="1.00"/>
<path transform="rotate(-0.3 290.0 300.6)" d="M272.9 300.6Q290.0 297.7 307.1 300.6Q290.0 303.5 272.9 300.6Z" fill="#000" fill-opacity="0.67"/>
<path transform="rotate(-0.8 347.9 300.6)" d="M333.9 300.6Q347.9 296.6 361.8 300.6Q347.9 304.6 333.9 300.6Z" fill="#000" fill-opacity="0.56"/>
<path transform="rotate(3.5 326.0 265.4)" d="M304.3 265.4Q326.0 262.0 347.7 265.4Q326.0 268.8 304.3 265.4Z" fill="#000" fill-opacity="0.39"/>
<path transform="rotate(-0.8 381.0 258.1)" d="M339.1 258.1Q381.0 254.5 422.9 258.1Q381.0 261.7 339.1 258.1Z" fill="#000" fill-opacity="0.78"/>
<path transform="rotate(-3.3 426.3 269.9)" d="M412.4 269.9Q426.3 266.5 440.2 269.9Q426.3 273.3 412.4 269.9Z" fill="#000" fill-opacity="0.73"/>
<path transform="rotate(-2.8 417.0 275.3)" d="M395.3 275.3Q417.0 271.9 438.7 275.3Q417.0 278.7 395.3 275.3Z" fill="#000" fill-opacity="0.45"/>
<path transform="rotate(1.5 368.5 282.5)" d="M351.4 282.5Q368.5 279.1 385.6 282.5Q368.5 285.9 351.4 282.5Z" fill="#000" fill-opacity="0.50"/>
<path transform="rotate(3.4 413.6 291.5)" d="M385.7 291.5Q413.6 287.9 441.5 291.5Q413.6 295.1 385.7 291.5Z" fill="#000" fill-opacity="0.73"/>
<path transform="rotate(-0.0 363.0 298.8)" d="M349.1 298.8Q363.0 294.5 376.9 298.8Q363.0 303.1 349.1 298.8Z" fill="#000" fill-opacity="0.95"/>
<path transform="rotate(-0.1 382.9 304.2)" d="M337.9 304.2Q382.9 299.0 427.8 304.2Q382.9 309.4 337.9 304.2Z" fill="#000" fill-opacity="0.95"/>
<path transform="rotate(0.4 429.9 297.0)" d="M419.0 297.0Q429.9 293.6 440.8 297.0Q429.9 300.4 419.0 297.0Z" fill="#000" fill-opacity="0.73"/>
<path transform="rotate(1.7 296.0 209.0)" d="M277.4 209.0Q296.0 205.9 314.6 209.0Q296.0 212.1 277.4 209.0Z" fill="#000" fill-opacity="0.50"/>
<path transform="rotate(-1.9 300.0 221.0)" d="M284.5 221.0Q300.0 218.1 315.5 221.0Q300.0 223.9 284.5 221.0Z" fill="#000" fill-opacity="0.39"/>
</g></g></g>
<rect x="440.3" y="194.2" width="6.8" height="115.1" fill="url(#cbjet)"/>
<text x="448.30" y="197.10" font-size="8.60" text-anchor="start" font-family='"Liberation Sans", Arial, sans-serif' fill="#000" textLength="11.12" lengthAdjust="spacingAndGlyphs">1.6</text>
<text x="448.30" y="216.23" font-size="8.60" text-anchor="start" font-family='"Liberation Sans", Arial, sans-serif' fill="#000" textLength="11.12" lengthAdjust="spacingAndGlyphs">1.4</text>
<text x="448.30" y="235.36" font-size="8.60" text-anchor="start" font-family='"Liberation Sans", Arial, sans-serif' fill="#000" textLength="11.12" lengthAdjust="spacingAndGlyphs">1.2</text>
<text x="448.30" y="254.49" font-size="8.60" text-anchor="start" font-family='"Liberation Sans", Arial, sans-serif' fill="#000" textLength="4.45" lengthAdjust="spacingAndGlyphs">1</text>
<text x="448.30" y="273.62" font-size="8.60" text-anchor="start" font-family='"Liberation Sans", Arial, sans-serif' fill="#000" textLength="11.12" lengthAdjust="spacingAndGlyphs">0.8</text>
<text x="448.30" y="292.75" font-size="8.60" text-anchor="start" font-family='"Liberation Sans", Arial, sans-serif' fill="#000" textLength="11.12" lengthAdjust="spacingAndGlyphs">0.6</text>
<text x="448.30" y="311.88" font-size="8.60" text-anchor="start" font-family='"Liberation Sans", Arial, sans-serif' fill="#000" textLength="11.12" lengthAdjust="spacingAndGlyphs">0.4</text>
<text x="274.40" y="317.90" font-size="9.40" text-anchor="middle" font-family='"Liberation Sans", Arial, sans-serif' fill="#000" textLength="4.70" lengthAdjust="spacingAndGlyphs">0</text>
<text x="305.60" y="317.90" font-size="9.40" text-anchor="middle" font-family='"Liberation Sans", Arial, sans-serif' fill="#000" textLength="9.41" lengthAdjust="spacingAndGlyphs">20</text>
<text x="336.80" y="317.90" font-size="9.40" text-anchor="middle" font-family='"Liberation Sans", Arial, sans-serif' fill="#000" textLength="9.41" lengthAdjust="spacingAndGlyphs">40</text>
<text x="368.00" y="317.90" font-size="9.40" text-anchor="middle" font-family='"Liberation Sans", Arial, sans-serif' fill="#000" textLength="9.41" lengthAdjust="spacingAndGlyphs">60</text>
<text x="399.20" y="317.90" font-size="9.40" text-anchor="middle" font-family='"Liberation Sans", Arial, sans-serif' fill="#000" textLength="9.41" lengthAdjust="spacingAndGlyphs">80</text>
<text x="430.40" y="317.90" font-size="9.40" text-anchor="middle" font-family='"Liberation Sans", Arial, sans-serif' fill="#000" textLength="14.11" lengthAdjust="spacingAndGlyphs">100</text>
<text x="272.20" y="207.30" font-size="9.60" text-anchor="end" font-family='"Liberation Sans", Arial, sans-serif' fill="#000" textLength="9.07" lengthAdjust="spacingAndGlyphs">40</text>
<text x="272.20" y="230.95" font-size="9.60" text-anchor="end" font-family='"Liberation Sans", Arial, sans-serif' fill="#000" textLength="9.07" lengthAdjust="spacingAndGlyphs">20</text>
<text x="272.20" y="254.60" font-size="9.60" text-anchor="end" font-family='"Liberation Sans", Arial, sans-serif' fill="#000" textLength="4.54" lengthAdjust="spacingAndGlyphs">0</text>
<text x="272.20" y="278.25" font-size="9.60" text-anchor="end" font-family='"Liberation Sans", Arial, sans-serif' fill="#000" textLength="11.79" lengthAdjust="spacingAndGlyphs">-20</text>
<text x="272.20" y="301.90" font-size="9.60" text-anchor="end" font-family='"Liberation Sans", Arial, sans-serif' fill="#000" textLength="11.79" lengthAdjust="spacingAndGlyphs">-40</text>
<text x="341.50" y="323.60" font-size="9.00" text-anchor="start" font-family='"Liberation Sans", Arial, sans-serif' fill="#000" textLength="26.1" lengthAdjust="spacingAndGlyphs">xω<tspan font-size="7.2" dy="3.4">pe</tspan><tspan dy="-3.4">/c</tspan></text>
<g transform="translate(257.6,270.6) rotate(-90)">
<text x="0.00" y="0.00" font-size="9.00" text-anchor="start" font-family='"Liberation Sans", Arial, sans-serif' fill="#000" textLength="30" lengthAdjust="spacingAndGlyphs">yω<tspan font-size="7.2" dy="3.4">pe</tspan><tspan dy="-3.4">/c</tspan></text>
</g>
<defs><radialGradient id="gF" gradientUnits="userSpaceOnUse" cx="0" cy="0" r="1" gradientTransform="translate(599.5,252.7) scale(52.6,40.6)">
<stop offset="0.000" stop-color="#830000"/>
<stop offset="0.020" stop-color="#830000"/>
<stop offset="0.040" stop-color="#840000"/>
<stop offset="0.060" stop-color="#850000"/>
<stop offset="0.080" stop-color="#860000"/>
<stop offset="0.100" stop-color="#870000"/>
<stop offset="0.120" stop-color="#890000"/>
<stop offset="0.140" stop-color="#8b0000"/>
<stop offset="0.160" stop-color="#8c0000"/>
<stop offset="0.180" stop-color="#8e0000"/>
<stop offset="0.200" stop-color="#910000"/>
<stop offset="0.220" stop-color="#930000"/>
<stop offset="0.240" stop-color="#960000"/>
<stop offset="0.260" stop-color="#9a0000"/>
<stop offset="0.280" stop-color="#9e0000"/>
<stop offset="0.300" stop-color="#a20000"/>
<stop offset="0.320" stop-color="#a70000"/>
<stop offset="0.340" stop-color="#ad0000"/>
<stop offset="0.360" stop-color="#b30000"/>
<stop offset="0.380" stop-color="#b90000"/>
<stop offset="0.400" stop-color="#c10000"/>
<stop offset="0.420" stop-color="#ca0000"/>
<stop offset="0.440" stop-color="#d30000"/>
<stop offset="0.460" stop-color="#de0000"/>
<stop offset="0.480" stop-color="#e90000"/>
<stop offset="0.500" stop-color="#f60000"/>
<stop offset="0.520" stop-color="#ff0400"/>
<stop offset="0.540" stop-color="#ff1300"/>
<stop offset="0.560" stop-color="#ff2500"/>
<stop offset="0.580" stop-color="#ff3800"/>
<stop offset="0.600" stop-color="#ff4d00"/>
<stop offset="0.620" stop-color="#ff6500"/>
<stop offset="0.640" stop-color="#ff7e00"/>
<stop offset="0.660" stop-color="#ff9b00"/>
<stop offset="0.680" stop-color="#ffbf00"/>
<stop offset="0.700" stop-color="#ffe500"/>
<stop offset="0.720" stop-color="#f5ff0a"/>
<stop offset="0.740" stop-color="#d2ff2d"/>
<stop offset="0.760" stop-color="#afff50"/>
<stop offset="0.780" stop-color="#8cff73"/>
<stop offset="0.800" stop-color="#68ff97"/>
<stop offset="0.820" stop-color="#45ffba"/>
<stop offset="0.840" stop-color="#21ffde"/>
<stop offset="0.860" stop-color="#00f8ff"/>
<stop offset="0.880" stop-color="#00cfff"/>
<stop offset="0.900" stop-color="#00a3ff"/>
<stop offset="0.920" stop-color="#0074ff"/>
<stop offset="0.940" stop-color="#0044ff"/>
<stop offset="0.960" stop-color="#0011ff"/>
<stop offset="0.980" stop-color="#4d4dff"/>
<stop offset="1.000" stop-color="#c8c8ff"/>
</radialGradient>
<filter id="fF" x="-0.05" y="-0.05" width="1.1" height="1.1"><feTurbulence type="fractalNoise" baseFrequency="0.8" numOctaves="1" seed="2" result="t"/><feDisplacementMap in="SourceGraphic" in2="t" scale="3.2" xChannelSelector="R" yChannelSelector="G"/></filter>
</defs>
<ellipse cx="599.5" cy="252.7" rx="52.6" ry="40.6" fill="url(#gF)" filter="url(#fF)"/>
<ellipse cx="599.5" cy="252.7" rx="47.3" ry="36.5" fill="url(#gF)"/>
<rect x="513.80" y="195.40" width="161.40" height="114.90" fill="none" stroke="#c6c6c6" stroke-width="1.30"/>
<path d="M513.80 310.30v-1.80M513.80 195.40v1.80M554.15 310.30v-1.80M554.15 195.40v1.80M594.50 310.30v-1.80M594.50 195.40v1.80M634.85 310.30v-1.80M634.85 195.40v1.80M675.20 310.30v-1.80M675.20 195.40v1.80M513.80 195.40h1.80M675.20 195.40h-1.80M513.80 224.12h1.80M675.20 224.12h-1.80M513.80 252.85h1.80M675.20 252.85h-1.80M513.80 281.58h1.80M675.20 281.58h-1.80M513.80 310.30h1.80M675.20 310.30h-1.80" stroke="#999" stroke-width="0.70" fill="none"/>
<rect x="680.4" y="195.4" width="7.0" height="114.6" fill="url(#cbwjet)"/>
<text x="687.70" y="206.60" font-size="8.80" text-anchor="start" font-family='"Liberation Sans", Arial, sans-serif' fill="#000" textLength="4.65" lengthAdjust="spacingAndGlyphs">4</text>
<text x="687.70" y="225.70" font-size="8.80" text-anchor="start" font-family='"Liberation Sans", Arial, sans-serif' fill="#000" textLength="11.62" lengthAdjust="spacingAndGlyphs">3.5</text>
<text x="687.70" y="244.80" font-size="8.80" text-anchor="start" font-family='"Liberation Sans", Arial, sans-serif' fill="#000" textLength="4.65" lengthAdjust="spacingAndGlyphs">3</text>
<text x="687.70" y="263.90" font-size="8.80" text-anchor="start" font-family='"Liberation Sans", Arial, sans-serif' fill="#000" textLength="11.62" lengthAdjust="spacingAndGlyphs">2.5</text>
<text x="687.70" y="283.00" font-size="8.80" text-anchor="start" font-family='"Liberation Sans", Arial, sans-serif' fill="#000" textLength="4.65" lengthAdjust="spacingAndGlyphs">2</text>
<text x="687.70" y="302.10" font-size="8.80" text-anchor="start" font-family='"Liberation Sans", Arial, sans-serif' fill="#000" textLength="11.62" lengthAdjust="spacingAndGlyphs">1.5</text>
<text x="512.60" y="318.20" font-size="8.30" text-anchor="middle" font-family='"Liberation Sans", Arial, sans-serif' fill="#000" textLength="7.38" lengthAdjust="spacingAndGlyphs">-1</text>
<text x="552.95" y="318.20" font-size="8.30" text-anchor="middle" font-family='"Liberation Sans", Arial, sans-serif' fill="#000" textLength="14.30" lengthAdjust="spacingAndGlyphs">-0.5</text>
<text x="594.50" y="318.20" font-size="8.30" text-anchor="middle" font-family='"Liberation Sans", Arial, sans-serif' fill="#000" textLength="4.61" lengthAdjust="spacingAndGlyphs">0</text>
<text x="634.85" y="318.20" font-size="8.30" text-anchor="middle" font-family='"Liberation Sans", Arial, sans-serif' fill="#000" textLength="11.54" lengthAdjust="spacingAndGlyphs">0.5</text>
<text x="675.20" y="318.20" font-size="8.30" text-anchor="middle" font-family='"Liberation Sans", Arial, sans-serif' fill="#000" textLength="4.61" lengthAdjust="spacingAndGlyphs">1</text>
<text x="512.30" y="198.40" font-size="8.20" text-anchor="end" font-family='"Liberation Sans", Arial, sans-serif' fill="#000" textLength="4.56" lengthAdjust="spacingAndGlyphs">1</text>
<text x="512.30" y="227.12" font-size="8.20" text-anchor="end" font-family='"Liberation Sans", Arial, sans-serif' fill="#000" textLength="11.40" lengthAdjust="spacingAndGlyphs">0.5</text>
<text x="512.30" y="255.85" font-size="8.20" text-anchor="end" font-family='"Liberation Sans", Arial, sans-serif' fill="#000" textLength="4.56" lengthAdjust="spacingAndGlyphs">0</text>
<text x="512.30" y="284.58" font-size="8.20" text-anchor="end" font-family='"Liberation Sans", Arial, sans-serif' fill="#000" textLength="14.13" lengthAdjust="spacingAndGlyphs">-0.5</text>
<text x="512.30" y="313.30" font-size="8.20" text-anchor="end" font-family='"Liberation Sans", Arial, sans-serif' fill="#000" textLength="7.29" lengthAdjust="spacingAndGlyphs">-1</text>
<text x="581.50" y="324.20" font-size="9.00" text-anchor="start" font-family='"Liberation Sans", Arial, sans-serif' fill="#000" textLength="26.1" lengthAdjust="spacingAndGlyphs">p<tspan font-size="7.2" dy="3.4">x</tspan><tspan dy="-3.4">/m</tspan><tspan font-size="7.2" dy="3.4">e</tspan><tspan dy="-3.4">c</tspan></text>
<g transform="translate(490.2,271) rotate(-90)">
<text x="0.00" y="0.00" font-size="9.00" text-anchor="start" font-family='"Liberation Sans", Arial, sans-serif' fill="#000" textLength="30" lengthAdjust="spacingAndGlyphs">p<tspan font-size="7.2" dy="3.4">y</tspan><tspan dy="-3.4">/m</tspan><tspan font-size="7.2" dy="3.4">e</tspan><tspan dy="-3.4">c</tspan></text>
</g>
</svg></body></html>
